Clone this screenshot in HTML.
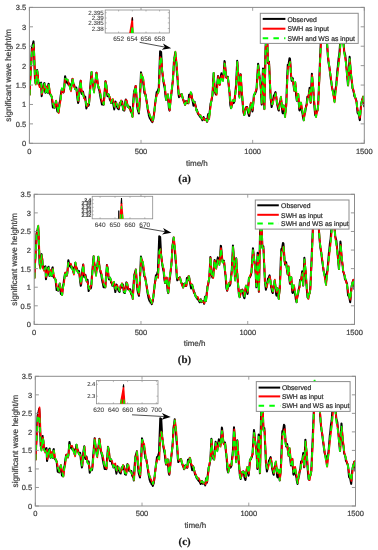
<!DOCTYPE html>
<html><head><meta charset="utf-8"><title>Significant wave height forecasts</title>
<style>
html,body{margin:0;padding:0;background:#fff;}
body{width:378px;height:550px;overflow:hidden;}
svg{display:block;color:#444;}
text{text-rendering:geometricPrecision;stroke:currentColor;stroke-width:0.22px;}
text[font-size='6.5'],text[font-size='6.2'],text[font-size='5.8'],text[font-size='5.4']{stroke-width:0.08px;}
</style></head>
<body>
<svg width="378" height="550" viewBox="0 0 378 550" font-family="'Liberation Sans', Arial, sans-serif" font-size="7.5" fill="#3a3a3a">
<rect width="378" height="550" fill="#fff"/>
<clipPath id='clipa'><rect x='29.4' y='3.4000000000000004' width='334.90000000000003' height='139.9'/></clipPath>
<g clip-path='url(#clipa)' fill='none' stroke-linejoin='round'>
<polyline points='29.40,94.12 29.60,94.41 30.00,81.86 30.52,74.08 30.70,70.96 31.30,60.58 31.63,53.38 31.80,48.58 32.40,45.94 32.75,44.63 33.50,41.37 33.87,46.63 34.00,50.67 34.50,66.46 34.98,78.95 35.10,80.56 35.60,83.36 36.10,78.20 37.10,69.90 37.21,70.92 37.80,75.05 38.33,83.79 38.40,83.75 39.45,83.09 39.50,84.62 40.56,83.61 41.10,82.60 41.60,94.44 41.68,96.15 42.70,89.68 42.80,89.74 43.91,83.86 44.40,83.04 45.03,91.21 45.40,92.72 46.14,90.84 46.50,87.55 47.26,91.07 47.60,92.79 48.38,84.15 48.70,83.74 49.49,93.17 49.80,93.82 50.61,94.84 51.40,96.05 51.73,96.45 52.84,107.40 53.96,106.20 54.40,108.14 55.08,105.08 56.00,100.94 56.19,102.68 57.31,111.42 58.42,110.72 58.50,112.21 59.54,102.65 60.10,101.03 60.66,95.69 61.70,89.75 61.77,90.94 62.89,91.86 63.40,92.43 64.01,90.15 65.00,77.13 65.12,76.20 66.24,81.82 67.36,83.07 67.50,81.01 68.47,84.67 69.10,83.83 69.59,83.65 70.70,89.57 70.70,88.70 71.82,84.60 72.40,79.00 72.94,82.93 74.00,85.90 74.05,84.77 75.17,89.08 76.29,87.59 76.50,89.14 77.40,98.06 78.10,102.93 78.52,101.45 79.64,86.98 80.60,80.78 80.75,83.11 81.40,92.51 81.87,93.99 82.98,91.55 84.10,97.66 84.60,98.64 85.22,96.64 86.33,108.46 87.10,105.77 87.45,104.25 88.57,105.81 89.00,104.29 89.68,93.81 90.80,80.24 91.50,72.20 91.91,78.01 92.30,80.50 93.03,84.24 93.90,90.90 94.15,86.98 95.26,82.80 96.38,73.23 96.40,72.74 97.50,82.02 98.00,85.82 98.61,88.15 99.60,91.41 99.73,93.16 100.85,99.33 101.30,101.08 101.96,104.53 103.08,104.20 103.70,104.72 104.19,97.21 105.31,83.21 105.40,81.26 106.43,85.59 107.00,93.61 107.54,96.28 108.66,94.38 109.50,97.58 109.78,99.40 110.89,101.45 111.10,102.90 112.01,102.31 112.70,99.84 113.12,103.11 114.24,109.45 114.40,108.45 115.36,101.59 116.00,102.68 116.47,104.81 117.59,108.09 118.50,109.20 118.71,109.29 119.82,102.84 120.90,102.38 120.94,104.71 122.06,101.47 122.60,105.13 123.17,109.91 124.20,110.56 124.29,110.59 125.40,101.02 125.80,99.40 126.52,101.12 127.64,106.76 128.30,106.23 128.75,106.68 129.87,106.69 130.70,111.25 130.99,112.02 132.10,113.59 132.40,116.47 133.22,101.92 134.00,92.06 134.34,90.76 135.45,87.06 135.60,85.98 136.57,99.13 137.30,107.25 137.68,109.38 138.80,113.20 138.90,113.45 139.92,97.68 141.00,72.36 141.03,72.39 142.15,77.90 143.00,78.93 143.27,83.00 144.38,92.65 144.60,93.32 145.50,94.20 146.62,101.29 147.10,104.46 147.73,109.43 148.70,114.15 148.85,115.39 149.96,118.73 150.60,118.70 151.08,120.58 152.20,121.08 152.30,122.24 153.31,119.21 153.90,115.03 154.43,110.31 155.50,100.68 155.55,100.98 156.66,92.05 157.20,91.78 157.78,90.83 158.80,87.69 158.89,83.93 160.01,54.04 160.10,51.29 161.13,52.14 161.30,55.34 162.10,70.64 162.24,71.68 163.36,81.65 163.40,81.28 164.48,87.27 164.50,85.57 165.59,96.80 166.20,99.99 166.71,97.67 167.80,94.54 167.83,95.73 168.94,108.35 169.50,110.62 170.06,104.96 171.10,94.27 171.17,96.01 172.29,85.68 172.70,81.68 173.41,72.55 173.90,61.55 174.52,57.78 175.20,52.48 175.64,58.79 176.50,64.85 176.76,71.02 177.60,79.80 177.87,84.67 178.50,93.86 178.99,97.22 180.10,95.82 180.11,94.73 181.22,94.54 181.70,94.16 182.34,96.61 183.40,100.25 183.45,100.46 184.57,103.11 185.00,104.76 185.69,101.23 186.60,101.36 186.80,102.92 187.92,102.32 188.30,103.28 189.04,94.82 190.15,96.95 190.70,93.16 191.27,93.15 192.38,100.24 192.40,99.86 193.50,105.85 194.62,101.79 194.80,102.80 195.73,106.54 196.50,110.49 196.85,109.86 197.97,113.64 198.90,114.97 199.08,115.28 200.20,116.89 201.32,117.82 201.40,118.06 202.43,120.23 203.55,117.01 204.60,119.88 204.66,120.05 205.78,119.21 206.90,120.23 207.10,121.80 208.01,114.40 208.70,113.91 209.00,118.81 209.13,116.49 210.25,106.94 210.60,103.42 211.36,101.32 212.30,95.78 212.48,95.05 213.60,73.58 213.60,72.95 214.70,90.76 214.71,91.15 215.83,94.36 216.40,93.83 216.94,86.73 218.00,76.02 218.06,76.81 219.18,80.73 219.60,84.43 220.29,78.57 221.30,74.27 221.41,73.29 222.53,78.17 222.90,79.97 223.64,73.91 224.50,61.05 224.76,61.86 225.87,74.11 226.20,77.12 226.99,76.81 227.80,76.70 228.11,79.71 229.22,90.54 229.50,92.53 230.34,105.36 231.10,108.14 231.46,106.06 232.57,103.44 232.70,101.49 233.69,102.94 234.40,101.54 234.81,97.55 235.92,86.62 236.00,86.50 237.04,64.37 237.20,60.87 238.15,72.92 238.50,80.39 239.27,93.06 239.30,96.13 240.39,78.66 240.60,74.31 241.50,89.41 241.70,91.37 242.62,103.19 243.40,111.69 243.74,113.16 244.20,114.99 244.85,111.88 245.80,107.77 245.97,107.29 247.09,106.98 247.50,108.69 248.20,113.29 249.10,116.04 249.32,115.63 250.43,106.26 250.70,103.93 251.55,103.94 252.40,111.51 252.67,110.57 253.78,96.17 254.00,94.74 254.90,94.17 256.02,91.48 256.50,89.45 257.13,79.37 258.10,63.71 258.25,64.53 259.36,75.49 259.40,75.70 260.48,84.33 261.00,90.83 261.60,103.84 261.70,104.51 262.71,75.27 263.00,68.39 263.83,93.38 264.30,109.08 264.95,77.16 265.50,48.13 266.06,38.08 266.30,31.40 267.18,35.38 267.20,37.81 267.90,62.95 268.30,63.39 269.00,61.73 269.41,70.28 269.80,79.83 270.53,95.89 270.60,98.06 271.64,107.11 272.30,104.35 272.76,101.72 273.88,95.37 273.90,96.94 274.99,93.27 275.50,92.12 276.11,96.11 277.20,104.77 277.23,104.53 278.34,109.72 278.80,110.56 279.46,103.57 280.57,99.96 280.80,97.69 281.69,105.30 282.40,112.17 282.81,113.30 283.70,105.60 283.92,106.48 285.00,116.47 285.04,114.24 286.16,106.20 286.20,104.58 287.27,74.88 287.80,64.66 288.39,65.31 289.51,58.16 290.00,58.89 290.62,67.49 291.10,75.96 291.74,80.86 292.70,78.20 292.85,78.55 293.97,88.48 294.40,90.89 295.09,86.75 295.20,83.44 296.20,95.90 296.80,100.75 297.32,98.66 298.10,93.93 298.44,98.41 299.30,109.82 299.55,110.46 300.67,104.66 300.90,103.72 301.79,110.21 302.60,113.96 302.90,116.87 303.70,120.26 304.02,116.60 305.00,112.27 305.13,112.39 306.25,105.31 306.60,104.49 307.37,96.76 308.30,96.48 308.48,97.00 309.60,87.88 309.90,88.21 310.60,102.79 310.72,99.44 311.83,75.13 311.90,73.80 312.95,87.01 313.10,87.88 314.06,102.12 314.70,109.81 315.18,115.15 315.90,116.00 316.30,111.62 317.41,110.78 318.00,107.19 318.53,95.75 319.60,70.43 319.65,68.97 320.76,42.10 320.80,40.58 321.80,21.78 321.88,24.28 322.90,31.20 323.00,32.87 324.11,33.74 324.50,36.84 325.23,34.67 326.20,29.50 326.34,31.21 327.46,50.53 327.80,55.05 328.58,62.94 329.50,67.95 329.69,69.99 330.81,78.97 331.10,80.97 331.93,87.24 332.70,90.45 333.04,91.03 334.16,97.58 334.40,100.84 335.28,90.39 336.00,86.82 336.39,82.52 337.51,68.59 337.60,69.17 338.62,58.12 339.30,54.22 339.74,48.70 340.86,33.32 340.90,33.90 341.97,38.01 342.60,34.21 343.09,38.34 344.20,51.30 344.21,51.54 345.32,55.61 345.80,60.76 346.44,67.41 347.56,80.54 348.00,85.35 348.67,74.67 349.60,56.80 349.79,58.23 350.70,71.73 350.90,74.92 352.02,82.93 352.40,87.82 353.14,89.71 354.00,93.42 354.25,95.88 355.37,97.81 355.60,98.68 356.49,101.00 357.30,110.07 357.60,112.98 358.72,114.35 359.70,119.75 359.83,120.13 360.95,106.29 361.40,102.95 362.07,100.17 363.00,97.07 363.18,98.25 364.20,105.30 364.30,107.10' stroke='#000' stroke-width='2.0'/>
<polyline points='29.62,94.98 29.82,94.84 30.22,82.44 30.74,75.07 30.92,71.93 31.52,60.77 31.86,52.82 32.02,49.19 32.62,48.38 32.97,47.84 33.72,44.36 34.09,50.56 34.22,53.33 34.72,66.07 35.20,76.74 35.32,79.68 35.82,84.70 36.32,80.66 37.32,70.83 37.44,71.87 38.02,75.85 38.55,84.39 38.62,84.24 39.67,87.19 39.72,86.83 40.79,86.25 41.32,84.15 41.82,93.51 41.90,94.21 42.92,90.04 43.02,90.29 44.14,85.32 44.62,83.99 45.25,89.53 45.62,91.88 46.37,87.98 46.72,86.30 47.48,89.78 47.82,92.14 48.60,86.53 48.92,85.13 49.72,90.63 50.02,92.56 50.83,95.17 51.62,96.36 51.95,97.10 53.07,104.03 54.18,106.21 54.62,107.88 55.30,105.30 56.22,100.52 56.42,102.01 57.53,107.49 58.65,112.99 58.72,113.01 59.76,104.14 60.32,101.85 60.88,97.75 61.92,88.88 62.00,88.99 63.11,91.56 63.62,92.30 64.23,87.92 65.22,78.83 65.35,79.01 66.46,79.87 67.58,79.77 67.72,79.64 68.69,82.89 69.32,85.48 69.81,86.57 70.92,90.93 70.93,91.28 72.04,83.93 72.62,78.51 73.16,81.25 74.22,87.14 74.28,86.98 75.39,88.91 76.51,89.98 76.72,90.40 77.63,96.34 78.32,101.19 78.74,98.31 79.86,87.86 80.82,80.51 80.97,82.01 81.62,91.05 82.09,90.93 83.21,94.10 84.32,98.18 84.82,98.82 85.44,100.17 86.56,105.56 87.32,106.46 87.67,106.06 88.79,102.61 89.22,102.55 89.91,94.59 91.02,79.64 91.72,71.81 92.14,76.22 92.52,79.82 93.25,84.84 94.12,92.40 94.37,89.98 95.49,82.40 96.60,72.52 96.62,72.77 97.72,82.76 98.22,86.28 98.84,86.71 99.82,90.29 99.95,90.73 101.07,96.91 101.52,99.72 102.18,101.85 103.30,103.47 103.92,104.42 104.42,97.23 105.53,82.32 105.62,81.09 106.65,87.80 107.22,92.96 107.77,94.85 108.88,95.52 109.72,96.80 110.00,97.88 111.12,101.13 111.32,102.58 112.23,100.00 112.92,98.88 113.35,101.25 114.46,106.50 114.62,106.76 115.58,103.61 116.22,102.52 116.70,104.69 117.81,105.48 118.72,108.06 118.93,107.51 120.05,103.54 121.12,100.31 121.16,100.76 122.28,103.50 122.82,105.90 123.40,108.90 124.42,109.81 124.51,109.64 125.63,102.21 126.02,99.94 126.74,100.41 127.86,106.14 128.52,106.68 128.98,107.98 130.09,109.56 130.92,110.48 131.21,111.03 132.33,115.61 132.62,117.05 133.44,103.68 134.22,92.20 134.56,90.99 135.67,86.30 135.82,85.77 136.79,98.14 137.52,106.25 137.91,107.75 139.02,111.81 139.12,112.43 140.14,94.47 141.22,73.69 141.26,74.28 142.37,76.40 143.22,78.13 143.49,80.71 144.61,89.66 144.82,91.85 145.72,96.47 146.84,102.70 147.32,104.95 147.95,109.12 148.92,112.45 149.07,112.62 150.19,116.26 150.82,117.41 151.30,118.78 152.42,120.97 152.52,121.68 153.54,116.84 154.12,113.92 154.65,108.96 155.72,99.74 155.77,99.30 156.89,95.08 157.42,93.35 158.00,93.65 159.02,90.69 159.12,88.08 160.23,59.07 160.32,57.03 161.35,59.04 161.52,60.32 162.32,71.52 162.47,71.77 163.58,81.08 163.62,81.24 164.70,85.12 164.72,84.68 165.82,95.27 166.42,99.93 166.93,97.82 168.02,94.36 168.05,95.31 169.16,106.60 169.72,110.33 170.28,105.14 171.32,92.60 171.40,92.58 172.51,83.64 172.92,80.96 173.63,69.10 174.12,60.60 174.75,56.52 175.42,51.71 175.86,55.56 176.72,63.75 176.98,67.56 177.82,79.65 178.10,83.68 178.72,92.72 179.21,94.79 180.32,96.17 180.33,95.51 181.44,94.70 181.92,94.26 182.56,97.51 183.62,100.53 183.68,101.22 184.79,103.94 185.22,104.97 185.91,103.47 186.82,100.80 187.03,101.96 188.14,102.60 188.52,103.25 189.26,99.60 190.38,95.58 190.92,92.57 191.49,94.44 192.61,100.29 192.62,99.79 193.72,101.51 194.84,103.49 195.02,103.49 195.96,108.05 196.72,110.65 197.07,110.76 198.19,113.31 199.12,114.51 199.31,115.05 200.42,114.91 201.54,117.75 201.62,117.62 202.65,119.37 203.77,118.04 204.82,119.53 204.89,120.21 206.00,120.38 207.12,120.69 207.32,121.53 208.24,116.88 208.92,114.03 209.22,118.76 209.35,117.32 210.47,107.52 210.82,103.62 211.59,98.76 212.52,94.00 212.70,91.55 213.82,73.23 213.82,73.17 214.92,91.19 214.93,91.86 216.05,92.96 216.62,94.85 217.17,89.00 218.22,76.41 218.28,76.90 219.40,82.11 219.82,85.23 220.52,80.22 221.52,75.82 221.63,75.70 222.75,79.13 223.12,80.68 223.87,71.85 224.72,63.16 224.98,64.86 226.10,75.77 226.42,78.21 227.21,77.69 228.02,77.42 228.33,80.40 229.45,91.75 229.72,93.14 230.56,102.06 231.32,108.11 231.68,106.54 232.80,100.44 232.92,99.91 233.91,99.43 234.62,100.93 235.03,96.71 236.14,88.49 236.22,87.58 237.26,65.16 237.42,61.92 238.38,75.78 238.72,81.94 239.49,95.85 239.52,97.45 240.61,78.16 240.82,74.50 241.73,88.34 241.92,90.86 242.84,102.74 243.62,111.56 243.96,113.44 244.42,114.74 245.08,112.03 246.02,107.71 246.19,107.66 247.31,107.67 247.72,108.76 248.42,110.46 249.32,113.79 249.54,111.89 250.66,103.80 250.92,102.58 251.77,104.87 252.62,109.89 252.89,107.94 254.01,97.05 254.22,95.20 255.12,92.45 256.24,89.47 256.72,88.57 257.36,79.22 258.32,65.52 258.47,67.02 259.59,77.25 259.62,76.91 260.70,86.54 261.22,91.88 261.82,102.42 261.92,103.62 262.94,77.71 263.22,70.20 264.05,94.86 264.52,109.30 265.17,77.99 265.72,49.87 266.29,37.25 266.52,32.21 267.40,39.88 267.42,41.01 268.12,62.67 268.52,61.71 269.22,63.73 269.63,72.81 270.02,81.19 270.75,98.00 270.82,99.02 271.87,104.25 272.52,104.64 272.98,102.73 274.10,97.98 274.12,98.18 275.22,95.38 275.72,93.24 276.33,96.41 277.42,104.33 277.45,104.01 278.57,107.95 279.02,109.38 279.68,105.47 280.80,97.58 281.02,96.49 281.91,104.03 282.62,109.70 283.03,108.93 283.92,105.62 284.15,106.88 285.22,117.13 285.26,116.40 286.38,103.88 286.42,103.28 287.50,78.02 288.02,66.94 288.61,66.55 289.73,62.21 290.22,61.53 290.85,70.40 291.32,77.60 291.96,79.57 292.92,80.17 293.08,81.90 294.19,89.13 294.62,91.24 295.31,83.96 295.42,82.30 296.43,92.91 297.02,100.17 297.54,97.78 298.32,93.84 298.66,98.05 299.52,108.28 299.78,107.89 300.89,102.45 301.12,102.48 302.01,108.26 302.82,112.68 303.12,114.88 303.92,120.36 304.24,117.82 305.22,110.03 305.36,108.51 306.47,106.06 306.82,104.71 307.59,99.35 308.52,95.33 308.71,94.75 309.82,90.10 310.12,89.42 310.82,102.63 310.94,99.52 312.06,77.13 312.12,75.19 313.17,86.18 313.32,87.57 314.29,101.61 314.92,109.00 315.40,113.86 316.12,117.11 316.52,114.74 317.64,109.96 318.22,105.82 318.75,93.85 319.82,71.07 319.87,69.44 320.99,42.02 321.02,41.51 322.02,22.74 322.10,23.56 323.12,32.21 323.22,32.61 324.34,37.99 324.72,39.92 325.45,35.48 326.42,32.60 326.57,35.06 327.68,50.52 328.02,55.66 328.80,62.40 329.72,68.77 329.92,70.61 331.03,78.41 331.32,80.90 332.15,87.53 332.92,92.41 333.27,94.79 334.38,101.12 334.62,102.45 335.50,93.55 336.22,87.44 336.61,83.63 337.73,72.21 337.82,71.42 338.85,62.68 339.52,56.28 339.96,51.58 341.08,37.59 341.12,37.09 342.20,37.52 342.82,37.21 343.31,42.09 344.42,53.06 344.43,53.52 345.55,59.42 346.02,63.17 346.66,69.52 347.78,80.48 348.22,85.40 348.89,74.20 349.82,59.67 350.01,62.60 350.92,71.69 351.13,73.93 352.24,83.83 352.62,88.31 353.36,89.74 354.22,92.86 354.48,94.62 355.59,99.05 355.82,99.22 356.71,103.77 357.52,108.52 357.83,110.30 358.94,114.66 359.92,117.90 360.06,117.29 361.17,106.44 361.62,102.94 362.29,99.49 363.22,96.46 363.41,97.06 364.30,103.69 364.30,104.18' stroke='#f00' stroke-width='1.7'/>
<polyline points='29.51,94.72 29.71,94.71 30.11,82.05 30.63,74.30 30.81,71.47 31.41,60.29 31.74,51.99 31.91,48.65 32.51,48.17 32.86,47.67 33.61,44.52 33.98,51.17 34.11,53.54 34.61,66.54 35.09,77.88 35.21,80.22 35.71,84.97 36.21,81.24 37.21,70.54 37.33,71.42 37.91,75.29 38.44,83.43 38.51,83.73 39.56,85.63 39.61,86.02 40.67,85.07 41.21,83.53 41.71,92.78 41.79,92.77 42.81,89.43 42.91,89.10 44.02,84.83 44.51,83.71 45.14,90.58 45.51,92.41 46.26,89.43 46.61,87.00 47.37,90.60 47.71,92.55 48.49,85.96 48.81,84.81 49.61,90.32 49.91,92.40 50.72,94.87 51.51,96.44 51.84,97.26 52.95,103.35 54.07,105.93 54.51,107.78 55.19,105.73 56.11,100.76 56.30,102.47 57.42,107.42 58.54,112.79 58.61,112.96 59.65,104.66 60.21,102.04 60.77,98.07 61.81,88.40 61.89,88.05 63.00,90.30 63.51,91.67 64.12,87.51 65.11,78.66 65.23,78.75 66.35,79.54 67.47,79.54 67.61,79.48 68.58,84.00 69.21,85.57 69.70,86.81 70.81,90.69 70.82,90.82 71.93,82.41 72.51,78.28 73.05,80.90 74.11,86.96 74.16,86.66 75.28,89.23 76.40,89.24 76.61,90.02 77.51,96.16 78.21,101.18 78.63,98.23 79.75,88.50 80.71,80.70 80.86,82.47 81.51,91.43 81.98,91.71 83.10,94.94 84.21,98.72 84.71,99.10 85.33,99.57 86.44,105.10 87.21,106.68 87.56,106.46 88.68,104.05 89.11,103.29 89.79,95.85 90.91,80.01 91.61,71.92 92.03,76.60 92.41,79.97 93.14,85.16 94.01,92.59 94.26,90.37 95.38,82.02 96.49,72.14 96.51,72.53 97.61,82.76 98.11,86.27 98.72,87.05 99.71,90.53 99.84,91.25 100.96,97.01 101.41,99.80 102.07,101.47 103.19,102.84 103.81,104.32 104.31,96.95 105.42,82.41 105.51,81.09 106.54,87.54 107.11,92.62 107.65,94.20 108.77,94.68 109.61,96.95 109.89,98.16 111.00,101.58 111.21,102.82 112.12,100.09 112.81,98.84 113.24,101.15 114.35,105.91 114.51,106.49 115.47,102.79 116.11,101.94 116.59,103.51 117.70,105.84 118.61,108.61 118.82,108.54 119.93,105.32 121.01,100.99 121.05,102.09 122.17,104.48 122.71,106.42 123.28,109.28 124.31,110.13 124.40,110.19 125.52,103.12 125.91,100.40 126.63,101.42 127.75,106.05 128.41,106.78 128.87,108.11 129.98,109.37 130.81,110.56 131.10,111.11 132.21,115.04 132.51,116.83 133.33,103.72 134.11,92.58 134.45,91.75 135.56,87.14 135.71,86.17 136.68,97.51 137.41,105.87 137.80,106.94 138.91,110.74 139.01,111.94 140.03,93.92 141.11,72.94 141.14,72.88 142.26,75.43 143.11,78.04 143.38,80.63 144.49,89.69 144.71,91.86 145.61,96.26 146.73,101.99 147.21,104.62 147.84,108.32 148.81,112.58 148.96,112.78 150.08,115.87 150.71,117.22 151.19,118.29 152.31,120.53 152.41,121.53 153.42,116.89 154.01,114.44 154.54,109.87 155.61,100.01 155.66,99.80 156.77,94.90 157.31,93.26 157.89,93.22 158.91,90.08 159.01,86.87 160.12,58.94 160.21,56.85 161.24,59.41 161.41,60.42 162.21,71.50 162.36,71.85 163.47,80.87 163.51,81.10 164.59,84.43 164.61,84.31 165.70,95.88 166.31,100.07 166.82,98.07 167.91,94.51 167.94,95.62 169.05,106.38 169.61,110.47 170.17,105.32 171.21,92.62 171.29,92.65 172.40,83.98 172.81,81.09 173.52,68.97 174.01,60.42 174.63,57.20 175.31,51.90 175.75,56.17 176.61,64.19 176.87,68.61 177.71,79.58 177.98,83.64 178.61,92.79 179.10,94.95 180.21,96.35 180.22,95.85 181.33,94.55 181.81,94.18 182.45,97.18 183.51,100.10 183.57,100.31 184.68,103.38 185.11,104.72 185.80,103.03 186.71,100.27 186.91,100.89 188.03,101.41 188.41,102.68 189.15,98.05 190.26,94.39 190.81,91.96 191.38,94.57 192.50,99.69 192.51,99.51 193.61,101.76 194.73,102.90 194.91,103.22 195.85,107.95 196.61,110.65 196.96,110.66 198.08,114.02 199.01,114.97 199.19,115.87 200.31,115.35 201.43,117.20 201.51,117.41 202.54,119.27 203.66,118.22 204.71,119.46 204.78,119.95 205.89,119.78 207.01,120.04 207.21,121.28 208.12,116.73 208.81,114.31 209.11,119.06 209.24,117.80 210.36,108.50 210.71,104.12 211.47,100.59 212.41,94.41 212.59,92.36 213.71,72.77 213.71,72.88 214.81,90.46 214.82,90.41 215.94,92.12 216.51,94.70 217.06,88.67 218.11,76.65 218.17,77.48 219.29,82.94 219.71,85.63 220.40,81.24 221.41,76.14 221.52,76.44 222.64,80.24 223.01,81.20 223.75,73.12 224.61,63.51 224.87,65.73 225.99,76.58 226.31,78.58 227.10,77.73 227.91,77.28 228.22,80.24 229.34,90.95 229.61,92.74 230.45,101.71 231.21,108.37 231.57,106.98 232.68,101.55 232.81,100.48 233.80,100.41 234.51,101.10 234.92,97.01 236.03,88.33 236.11,87.48 237.15,65.26 237.31,61.87 238.27,76.47 238.61,82.27 239.38,96.64 239.41,97.86 240.50,78.08 240.71,74.40 241.61,87.84 241.81,90.61 242.73,102.40 243.51,111.89 243.85,114.03 244.31,115.09 244.96,113.06 245.91,107.98 246.08,108.11 247.20,108.09 247.61,109.01 248.31,110.71 249.21,114.35 249.43,112.90 250.55,104.16 250.81,102.78 251.66,105.02 252.51,109.86 252.78,107.80 253.89,96.42 254.11,94.89 255.01,92.25 256.13,89.43 256.61,88.54 257.24,79.38 258.21,65.31 258.36,66.76 259.48,77.49 259.51,76.98 260.59,86.62 261.11,91.93 261.71,102.68 261.81,103.78 262.83,76.62 263.11,69.57 263.94,94.00 264.41,108.94 265.06,77.18 265.61,49.27 266.17,37.53 266.41,32.18 267.29,40.84 267.31,41.35 268.01,63.28 268.41,63.09 269.11,63.76 269.52,73.08 269.91,81.31 270.64,97.39 270.71,98.72 271.76,103.11 272.41,104.38 272.87,102.15 273.99,98.52 274.01,98.46 275.10,96.38 275.61,93.73 276.22,96.57 277.31,104.07 277.34,103.43 278.45,106.89 278.91,108.90 279.57,105.73 280.69,98.08 280.91,96.74 281.80,104.75 282.51,109.88 282.92,109.21 283.81,105.52 284.04,106.62 285.11,117.23 285.15,116.48 286.27,103.77 286.31,103.24 287.38,78.86 287.91,67.26 288.50,67.07 289.62,63.35 290.11,62.01 290.73,70.98 291.21,77.86 291.85,79.55 292.81,79.55 292.97,80.74 294.08,87.45 294.51,90.40 295.20,82.93 295.31,81.75 296.32,92.70 296.91,100.33 297.43,98.05 298.21,93.86 298.55,98.11 299.41,108.32 299.66,107.89 300.78,102.64 301.01,102.59 301.90,108.48 302.71,112.83 303.01,115.10 303.81,120.41 304.13,117.76 305.11,110.42 305.25,109.22 306.36,105.80 306.71,104.61 307.48,99.83 308.41,95.45 308.59,94.99 309.71,91.70 310.01,90.21 310.71,103.34 310.83,100.89 311.94,76.90 312.01,75.02 313.06,84.94 313.21,86.94 314.18,100.07 314.81,108.39 315.29,112.60 316.01,117.10 316.41,114.59 317.53,110.34 318.11,106.39 318.64,94.86 319.71,71.00 319.76,69.42 320.87,41.68 320.91,41.20 321.91,22.22 321.99,22.89 323.01,31.50 323.11,31.52 324.22,37.06 324.61,39.32 325.34,34.87 326.31,32.19 326.46,34.57 327.57,49.54 327.91,55.09 328.69,61.56 329.61,68.34 329.81,69.90 330.92,77.80 331.21,80.56 332.04,86.61 332.81,92.21 333.15,94.41 334.27,100.61 334.51,102.22 335.39,93.69 336.11,87.35 336.50,83.47 337.62,72.42 337.71,71.46 338.74,62.30 339.41,56.21 339.85,51.62 340.97,37.25 341.01,36.77 342.08,37.03 342.71,36.79 343.20,41.57 344.31,52.93 344.32,53.50 345.43,60.34 345.91,63.56 346.55,70.18 347.67,80.44 348.11,85.37 348.78,72.78 349.71,58.73 349.90,60.92 350.81,71.35 351.02,73.37 352.13,83.97 352.51,88.37 353.25,89.98 354.11,92.41 354.36,93.74 355.48,98.02 355.71,98.71 356.60,102.55 357.41,108.39 357.71,109.99 358.83,113.94 359.81,117.86 359.95,117.10 361.06,105.34 361.51,102.41 362.18,99.38 363.11,96.46 363.30,97.05 364.30,104.19 364.30,105.15' stroke='#0f0' stroke-width='1.7' stroke-dasharray='5.5 4'/>
</g>
<rect x='29.4' y='7.4' width='334.90000000000003' height='135.9' fill='none' stroke='#8c8c8c' stroke-width='1'/>
<line x1='29.4' y1='143.30' x2='33.0' y2='143.30' stroke='#8c8c8c' stroke-width='0.9'/>
<line x1='364.3' y1='143.30' x2='360.7' y2='143.30' stroke='#8c8c8c' stroke-width='0.9'/>
<text x='26.20' y='146.20' text-anchor='end'>0</text>
<line x1='29.4' y1='123.89' x2='33.0' y2='123.89' stroke='#8c8c8c' stroke-width='0.9'/>
<line x1='364.3' y1='123.89' x2='360.7' y2='123.89' stroke='#8c8c8c' stroke-width='0.9'/>
<text x='26.20' y='126.79' text-anchor='end'>0.5</text>
<line x1='29.4' y1='104.47' x2='33.0' y2='104.47' stroke='#8c8c8c' stroke-width='0.9'/>
<line x1='364.3' y1='104.47' x2='360.7' y2='104.47' stroke='#8c8c8c' stroke-width='0.9'/>
<text x='26.20' y='107.37' text-anchor='end'>1</text>
<line x1='29.4' y1='85.06' x2='33.0' y2='85.06' stroke='#8c8c8c' stroke-width='0.9'/>
<line x1='364.3' y1='85.06' x2='360.7' y2='85.06' stroke='#8c8c8c' stroke-width='0.9'/>
<text x='26.20' y='87.96' text-anchor='end'>1.5</text>
<line x1='29.4' y1='65.64' x2='33.0' y2='65.64' stroke='#8c8c8c' stroke-width='0.9'/>
<line x1='364.3' y1='65.64' x2='360.7' y2='65.64' stroke='#8c8c8c' stroke-width='0.9'/>
<text x='26.20' y='68.54' text-anchor='end'>2</text>
<line x1='29.4' y1='46.23' x2='33.0' y2='46.23' stroke='#8c8c8c' stroke-width='0.9'/>
<line x1='364.3' y1='46.23' x2='360.7' y2='46.23' stroke='#8c8c8c' stroke-width='0.9'/>
<text x='26.20' y='49.13' text-anchor='end'>2.5</text>
<line x1='29.4' y1='26.81' x2='33.0' y2='26.81' stroke='#8c8c8c' stroke-width='0.9'/>
<line x1='364.3' y1='26.81' x2='360.7' y2='26.81' stroke='#8c8c8c' stroke-width='0.9'/>
<text x='26.20' y='29.71' text-anchor='end'>3</text>
<line x1='29.4' y1='7.40' x2='33.0' y2='7.40' stroke='#8c8c8c' stroke-width='0.9'/>
<line x1='364.3' y1='7.40' x2='360.7' y2='7.40' stroke='#8c8c8c' stroke-width='0.9'/>
<text x='26.20' y='10.30' text-anchor='end'>3.5</text>
<line x1='29.40' y1='143.3' x2='29.40' y2='139.9' stroke='#8c8c8c' stroke-width='0.8'/>
<line x1='29.40' y1='7.4' x2='29.40' y2='10.8' stroke='#8c8c8c' stroke-width='0.8'/>
<text x='29.40' y='153.70' text-anchor='middle'>0</text>
<line x1='141.03' y1='143.3' x2='141.03' y2='139.9' stroke='#8c8c8c' stroke-width='0.8'/>
<line x1='141.03' y1='7.4' x2='141.03' y2='10.8' stroke='#8c8c8c' stroke-width='0.8'/>
<text x='141.03' y='153.70' text-anchor='middle'>500</text>
<line x1='252.67' y1='143.3' x2='252.67' y2='139.9' stroke='#8c8c8c' stroke-width='0.8'/>
<line x1='252.67' y1='7.4' x2='252.67' y2='10.8' stroke='#8c8c8c' stroke-width='0.8'/>
<text x='252.67' y='153.70' text-anchor='middle'>1000</text>
<line x1='364.30' y1='143.3' x2='364.30' y2='139.9' stroke='#8c8c8c' stroke-width='0.8'/>
<line x1='364.30' y1='7.4' x2='364.30' y2='10.8' stroke='#8c8c8c' stroke-width='0.8'/>
<text x='364.30' y='153.70' text-anchor='middle'>1500</text>
<text x='196.90' y='165.80' text-anchor='middle' font-size='8'>time/h</text>
<text transform='translate(11.2,75.35) rotate(-90)' text-anchor='middle' font-size='8.3'>significant wave height/m</text>
<text x='184.6' y='182.0' text-anchor='middle' font-family='Liberation Serif, serif' font-weight='bold' font-size='10.8' fill='#111'>(a)</text>
<rect x='260.3' y='13.3' width='97.89999999999998' height='30.099999999999998' fill='#fff' stroke='#8c8c8c' stroke-width='1'/>
<line x1='262.7' y1='18.9' x2='285.4' y2='18.9' stroke='#000' stroke-width='2'/>
<text x='287.4' y='21.60' fill='#111' font-size='6.8'>Observed</text>
<line x1='262.7' y1='28.7' x2='285.4' y2='28.7' stroke='#f00' stroke-width='2'/>
<text x='287.4' y='31.40' fill='#111' font-size='6.8'>SWH as input</text>
<line x1='262.7' y1='38.3' x2='285.4' y2='38.3' stroke='#0f0' stroke-width='2' stroke-dasharray='5.5 5.2'/>
<text x='287.4' y='41.00' fill='#111' font-size='6.8'>SWH and WS as input</text>
<rect x='105.2' y='10.0' width='64.10000000000001' height='23.0' fill='#fff' stroke='#8c8c8c' stroke-width='0.8'/>
<line x1='118.6' y1='33.0' x2='118.6' y2='31.5' stroke='#8c8c8c' stroke-width='0.6'/>
<line x1='118.6' y1='10.0' x2='118.6' y2='11.5' stroke='#8c8c8c' stroke-width='0.6'/>
<text x='118.6' y='40.9' text-anchor='middle' font-size='6.5'>652</text>
<line x1='132.3' y1='33.0' x2='132.3' y2='31.5' stroke='#8c8c8c' stroke-width='0.6'/>
<line x1='132.3' y1='10.0' x2='132.3' y2='11.5' stroke='#8c8c8c' stroke-width='0.6'/>
<text x='132.3' y='40.9' text-anchor='middle' font-size='6.5'>654</text>
<line x1='146.0' y1='33.0' x2='146.0' y2='31.5' stroke='#8c8c8c' stroke-width='0.6'/>
<line x1='146.0' y1='10.0' x2='146.0' y2='11.5' stroke='#8c8c8c' stroke-width='0.6'/>
<text x='146.0' y='40.9' text-anchor='middle' font-size='6.5'>656</text>
<line x1='159.6' y1='33.0' x2='159.6' y2='31.5' stroke='#8c8c8c' stroke-width='0.6'/>
<line x1='159.6' y1='10.0' x2='159.6' y2='11.5' stroke='#8c8c8c' stroke-width='0.6'/>
<text x='159.6' y='40.9' text-anchor='middle' font-size='6.5'>658</text>
<line x1='105.2' y1='12.7' x2='106.7' y2='12.7' stroke='#8c8c8c' stroke-width='0.6'/>
<line x1='169.3' y1='12.7' x2='167.8' y2='12.7' stroke='#8c8c8c' stroke-width='0.6'/>
<text x='103.8' y='14.899999999999999' text-anchor='end' font-size='6.2'>2.395</text>
<line x1='105.2' y1='18.0' x2='106.7' y2='18.0' stroke='#8c8c8c' stroke-width='0.6'/>
<line x1='169.3' y1='18.0' x2='167.8' y2='18.0' stroke='#8c8c8c' stroke-width='0.6'/>
<text x='103.8' y='20.2' text-anchor='end' font-size='6.2'>2.39</text>
<line x1='105.2' y1='22.9' x2='106.7' y2='22.9' stroke='#8c8c8c' stroke-width='0.6'/>
<line x1='169.3' y1='22.9' x2='167.8' y2='22.9' stroke='#8c8c8c' stroke-width='0.6'/>
<text x='103.8' y='25.099999999999998' text-anchor='end' font-size='6.2'>2.385</text>
<line x1='105.2' y1='28.5' x2='106.7' y2='28.5' stroke='#8c8c8c' stroke-width='0.6'/>
<line x1='169.3' y1='28.5' x2='167.8' y2='28.5' stroke='#8c8c8c' stroke-width='0.6'/>
<text x='103.8' y='30.7' text-anchor='end' font-size='6.2'>2.38</text>
<polygon points='129.2,33.0 131.8,17.6 133.0,17.6 133.7,33.0' fill='#f00'/>
<polygon points='131.5,20.6 131.9,17.2 132.9,17.2 133.2,20.6' fill='#000'/>
<polygon points='130.8,33.0 131.4,27.6 133.3,27.6 133.6,33.0' fill='#0f0'/>
<line x1='139.6' y1='42.3' x2='164.83' y2='47.09' stroke='#222' stroke-width='0.8'/><polygon points='171.20,48.30 161.74,49.86 164.83,47.09 162.97,43.38' fill='#000'/>
<clipPath id='clipb'><rect x='34.2' y='190.3' width='320.3' height='134.09999999999997'/></clipPath>
<g clip-path='url(#clipb)' fill='none' stroke-linejoin='round'>
<polyline points='34.20,277.32 34.39,277.60 34.77,265.58 35.27,258.14 35.44,255.15 36.02,245.21 36.34,238.32 36.50,233.72 37.07,231.20 37.40,229.94 38.12,226.82 38.47,231.86 38.60,235.72 39.08,250.84 39.54,262.79 39.65,264.34 40.13,267.01 40.61,262.08 41.56,254.13 41.67,255.11 42.23,259.06 42.74,267.43 42.81,267.39 43.81,266.76 43.86,268.23 44.88,267.26 45.39,266.29 45.87,277.63 45.94,279.26 46.92,273.07 47.01,273.13 48.08,267.50 48.55,266.71 49.15,274.54 49.50,275.98 50.22,274.18 50.55,271.03 51.28,274.40 51.61,276.04 52.35,267.78 52.66,267.38 53.42,276.41 53.71,277.04 54.49,278.01 55.24,279.17 55.55,279.55 56.62,290.03 57.69,288.88 58.11,290.74 58.76,287.81 59.64,283.84 59.82,285.51 60.89,293.89 61.96,293.21 62.03,294.64 63.03,285.49 63.56,283.93 64.09,278.83 65.09,273.14 65.16,274.28 66.23,275.16 66.72,275.70 67.30,273.52 68.25,261.05 68.37,260.16 69.43,265.55 70.50,266.74 70.64,264.77 71.57,268.27 72.17,267.47 72.64,267.30 73.70,272.96 73.70,272.13 74.77,268.20 75.33,262.85 75.84,266.60 76.86,269.45 76.91,268.37 77.97,272.49 79.04,271.07 79.25,272.55 80.11,281.09 80.78,285.75 81.18,284.33 82.25,270.49 83.17,264.55 83.31,266.78 83.93,275.78 84.38,277.19 85.45,274.85 86.52,280.70 86.99,281.65 87.58,279.73 88.65,291.05 89.38,288.47 89.72,287.02 90.79,288.51 91.20,287.05 91.85,277.02 92.92,264.03 93.59,256.34 93.99,261.89 94.36,264.28 95.06,267.86 95.89,274.24 96.12,270.48 97.19,266.48 98.26,257.32 98.28,256.85 99.33,265.73 99.81,269.37 100.40,271.61 101.34,274.72 101.46,276.40 102.53,282.31 102.97,283.98 103.60,287.29 104.67,286.97 105.26,287.46 105.73,280.28 106.80,266.88 106.89,265.01 107.87,269.15 108.42,276.83 108.94,279.39 110.00,277.56 110.81,280.63 111.07,282.37 112.14,284.34 112.34,285.73 113.21,285.16 113.87,282.80 114.28,285.93 115.34,292.00 115.49,291.04 116.41,284.47 117.02,285.51 117.48,287.55 118.55,290.70 119.42,291.76 119.61,291.85 120.68,285.67 121.71,285.23 121.75,287.46 122.82,284.36 123.34,287.86 123.88,292.44 124.87,293.06 124.95,293.08 126.02,283.92 126.40,282.37 127.09,284.02 128.15,289.42 128.79,288.91 129.22,289.34 130.29,289.36 131.08,293.72 131.36,294.46 132.43,295.96 132.71,298.72 133.49,284.79 134.24,275.35 134.56,274.10 135.63,270.56 135.77,269.53 136.70,282.12 137.40,289.89 137.76,291.93 138.83,295.58 138.93,295.83 139.90,280.72 140.93,256.48 140.97,256.52 142.03,261.79 142.85,262.77 143.10,266.67 144.17,275.91 144.38,276.56 145.24,277.40 146.31,284.18 146.77,287.22 147.37,291.98 148.30,296.50 148.44,297.68 149.51,300.88 150.12,300.85 150.58,302.65 151.64,303.13 151.74,304.24 152.71,301.34 153.27,297.34 153.78,292.81 154.80,283.60 154.85,283.89 155.91,275.34 156.43,275.08 156.98,274.17 157.96,271.16 158.05,267.57 159.12,238.95 159.20,236.31 160.18,237.13 160.35,240.19 161.11,254.84 161.25,255.84 162.32,265.39 162.36,265.03 163.39,270.76 163.41,269.13 164.46,279.89 165.04,282.94 165.52,280.72 166.57,277.72 166.59,278.86 167.66,290.94 168.19,293.11 168.73,287.70 169.72,277.46 169.79,279.13 170.86,269.24 171.25,265.41 171.93,256.66 172.40,246.14 173.00,242.53 173.64,237.46 174.06,243.50 174.89,249.30 175.13,255.20 175.94,263.61 176.20,268.28 176.80,277.07 177.27,280.29 178.33,278.95 178.34,277.91 179.40,277.72 179.86,277.36 180.47,279.70 181.49,283.19 181.54,283.39 182.61,285.92 183.02,287.51 183.67,284.13 184.55,284.25 184.74,285.74 185.81,285.17 186.17,286.09 186.88,277.99 187.94,280.03 188.47,276.40 189.01,276.39 190.08,283.18 190.09,282.81 191.15,288.54 192.21,284.66 192.39,285.63 193.28,289.21 194.02,292.99 194.35,292.39 195.42,296.00 196.31,297.28 196.49,297.57 197.55,299.12 198.62,300.01 198.70,300.24 199.69,302.31 200.76,299.23 201.76,301.98 201.82,302.14 202.89,301.34 203.96,302.31 204.15,303.82 205.03,296.73 205.68,296.26 205.97,300.95 206.09,298.73 207.16,289.60 207.50,286.22 208.23,284.21 209.13,278.91 209.30,278.21 210.37,257.65 210.37,257.05 211.42,274.10 211.43,274.48 212.50,277.55 213.05,277.04 213.57,270.24 214.58,259.99 214.64,260.75 215.70,264.50 216.11,268.04 216.77,262.43 217.73,258.32 217.84,257.37 218.91,262.05 219.26,263.77 219.97,257.97 220.79,245.66 221.04,246.43 222.11,258.17 222.42,261.05 223.18,260.75 223.95,260.65 224.24,263.53 225.31,273.89 225.58,275.80 226.38,288.08 227.11,290.74 227.45,288.75 228.52,286.24 228.64,284.38 229.58,285.76 230.26,284.42 230.65,280.60 231.72,270.14 231.79,270.03 232.79,248.84 232.94,245.48 233.85,257.03 234.18,264.18 234.92,276.31 234.95,279.25 235.99,262.52 236.19,258.36 237.06,272.81 237.24,274.69 238.12,286.00 238.87,294.14 239.19,295.55 239.64,297.30 240.26,294.32 241.17,290.38 241.33,289.93 242.40,289.63 242.79,291.26 243.46,295.67 244.32,298.30 244.53,297.91 245.60,288.94 245.85,286.71 246.67,286.72 247.48,293.97 247.73,293.07 248.80,279.29 249.01,277.91 249.87,277.37 250.94,274.79 251.40,272.85 252.00,263.20 252.93,248.21 253.07,248.99 254.14,259.49 254.17,259.69 255.21,267.95 255.70,274.17 256.27,286.63 256.37,287.27 257.34,259.27 257.62,252.69 258.41,276.61 258.86,291.64 259.48,261.08 260.01,233.29 260.55,223.67 260.77,217.28 261.61,221.08 261.63,223.41 262.30,247.47 262.68,247.90 263.35,246.31 263.75,254.50 264.12,263.64 264.82,279.01 264.88,281.09 265.88,289.75 266.51,287.11 266.95,284.60 268.02,278.52 268.04,280.02 269.09,276.50 269.57,275.40 270.15,279.22 271.20,287.52 271.22,287.28 272.29,292.25 272.73,293.06 273.36,286.36 274.43,282.91 274.64,280.74 275.49,288.02 276.17,294.60 276.56,295.68 277.41,288.31 277.63,289.16 278.66,298.71 278.70,296.58 279.76,288.88 279.80,287.34 280.83,258.90 281.34,249.12 281.90,249.74 282.97,242.89 283.44,243.59 284.03,251.83 284.49,259.93 285.10,264.63 286.02,262.08 286.17,262.42 287.24,271.92 287.65,274.23 288.30,270.26 288.41,267.09 289.37,279.02 289.94,283.67 290.44,281.66 291.19,277.14 291.51,281.42 292.33,292.35 292.58,292.96 293.64,287.41 293.86,286.51 294.71,292.72 295.49,296.31 295.78,299.10 296.54,302.35 296.85,298.84 297.79,294.69 297.91,294.81 298.98,288.03 299.32,287.25 300.05,279.84 300.94,279.58 301.12,280.08 302.18,271.35 302.47,271.66 303.14,285.62 303.25,282.41 304.32,259.14 304.38,257.87 305.39,270.52 305.53,271.35 306.45,284.98 307.06,292.34 307.52,297.45 308.21,298.27 308.59,294.07 309.66,293.27 310.22,289.83 310.73,278.88 311.75,254.64 311.79,253.25 312.86,227.52 312.90,226.06 313.85,208.07 313.93,210.46 314.90,217.08 315.00,218.69 316.06,219.52 316.44,222.48 317.13,220.40 318.06,215.46 318.20,217.10 319.27,235.58 319.59,239.91 320.33,247.47 321.22,252.27 321.40,254.22 322.47,262.81 322.75,264.73 323.54,270.73 324.28,273.80 324.61,274.36 325.67,280.63 325.90,283.75 326.74,273.75 327.43,270.33 327.81,266.21 328.88,252.87 328.96,253.43 329.94,242.85 330.59,239.12 331.01,233.84 332.08,219.11 332.12,219.67 333.15,223.60 333.75,219.96 334.21,223.92 335.28,236.33 335.28,236.56 336.35,240.45 336.81,245.38 337.42,251.75 338.48,264.32 338.91,268.92 339.55,258.70 340.44,241.59 340.62,242.96 341.49,255.88 341.69,258.94 342.76,266.60 343.12,271.29 343.82,273.10 344.65,276.65 344.89,279.00 345.96,280.85 346.18,281.68 347.03,283.90 347.81,292.59 348.09,295.38 349.16,296.69 350.10,301.85 350.23,302.22 351.30,288.97 351.73,285.78 352.36,283.11 353.26,280.14 353.43,281.27 354.40,288.02 354.50,289.75' stroke='#000' stroke-width='2.0'/>
<polyline points='34.41,278.13 34.60,278.01 34.99,266.33 35.48,259.38 35.66,256.41 36.23,245.90 36.55,238.40 36.71,234.78 37.28,232.38 37.62,230.94 38.33,225.62 38.68,232.41 38.81,235.39 39.29,248.75 39.75,260.10 39.87,263.19 40.34,268.45 40.82,264.64 41.78,255.38 41.89,256.36 42.45,260.11 42.95,268.16 43.02,268.02 44.02,270.80 44.07,270.46 45.09,269.91 45.60,267.93 46.08,276.75 46.16,277.42 47.13,273.48 47.23,273.72 48.29,269.03 48.76,267.78 49.36,273.00 49.72,275.22 50.43,271.54 50.77,269.96 51.50,273.24 51.82,275.47 52.56,270.18 52.87,268.85 53.63,274.04 53.92,275.86 54.70,278.32 55.45,279.44 55.77,280.13 56.83,286.67 57.90,288.72 58.32,290.30 58.97,287.87 59.85,283.36 60.04,284.76 61.11,289.93 62.17,295.12 62.24,295.13 63.24,286.77 63.78,284.62 64.31,280.75 65.31,272.39 65.38,272.50 66.44,274.91 66.93,275.62 67.51,271.48 68.46,262.91 68.58,263.08 69.65,263.90 70.71,263.81 70.85,263.68 71.78,266.74 72.38,269.18 72.85,270.21 73.91,274.32 73.92,274.65 74.98,267.73 75.54,262.61 76.05,265.19 77.07,270.75 77.12,270.60 78.19,272.42 79.26,273.42 79.46,273.82 80.32,279.42 80.99,284.00 81.39,281.28 82.46,271.43 83.38,264.50 83.53,265.91 84.15,274.43 84.59,274.32 85.66,277.31 86.73,281.15 87.21,281.76 87.80,283.03 88.86,288.11 89.60,288.95 89.93,288.58 91.00,285.33 91.42,285.27 92.07,277.77 93.14,263.69 93.81,256.30 94.20,260.46 94.57,263.85 95.27,268.59 96.10,275.71 96.34,273.43 97.41,266.28 98.47,256.97 98.49,257.21 99.54,266.62 100.02,269.94 100.61,270.34 101.55,273.71 101.68,274.14 102.74,279.96 103.18,282.61 103.81,284.61 104.88,286.14 105.47,287.04 105.95,280.26 107.01,266.20 107.10,265.04 108.08,271.37 108.63,276.23 109.15,278.02 110.22,278.65 111.02,279.86 111.29,280.87 112.35,283.94 112.55,285.30 113.42,282.87 114.08,281.81 114.49,284.05 115.56,289.00 115.71,289.24 116.62,286.28 117.24,285.24 117.69,287.29 118.76,288.04 119.63,290.47 119.83,289.95 120.89,286.20 121.92,283.17 121.96,283.59 123.03,286.17 123.55,288.43 124.10,291.25 125.08,292.12 125.17,291.95 126.23,284.95 126.61,282.81 127.30,283.26 128.37,288.66 129.00,289.17 129.44,290.39 130.50,291.88 131.30,292.75 131.57,293.26 132.64,297.58 132.92,298.94 133.71,286.34 134.45,275.52 134.77,274.38 135.84,269.96 135.98,269.46 136.91,281.12 137.61,288.76 137.98,290.17 139.04,294.00 139.14,294.58 140.11,277.66 141.15,258.07 141.18,258.63 142.25,260.63 143.06,262.26 143.32,264.69 144.38,273.13 144.59,275.18 145.45,279.54 146.52,285.42 146.98,287.53 147.59,291.47 148.51,294.61 148.65,294.77 149.72,298.20 150.33,299.28 150.79,300.57 151.86,302.63 151.96,303.30 152.92,298.74 153.49,295.99 153.99,291.31 155.02,282.63 155.06,282.21 156.13,278.23 156.64,276.60 157.20,276.88 158.17,277.85 158.26,275.77 159.33,252.93 159.42,251.36 160.40,249.12 160.56,249.63 161.33,256.97 161.47,256.63 162.53,265.04 162.57,265.19 163.60,268.84 163.62,268.44 164.67,278.42 165.25,282.80 165.74,280.81 166.78,277.55 166.80,278.45 167.87,289.09 168.41,292.61 168.94,287.71 169.94,275.89 170.01,275.88 171.07,267.45 171.47,264.93 172.14,253.75 172.61,245.74 173.21,241.89 173.86,237.36 174.28,240.98 175.10,248.71 175.35,252.30 176.15,263.69 176.41,267.49 177.01,276.01 177.48,277.96 178.54,279.26 178.55,278.64 179.62,277.88 180.07,277.46 180.68,280.53 181.70,283.37 181.75,284.02 182.82,286.58 183.23,287.56 183.89,286.14 184.76,283.62 184.95,284.72 186.02,285.32 186.39,285.94 187.09,282.49 188.16,278.71 188.68,275.87 189.23,277.63 190.29,283.14 190.31,282.68 191.36,284.29 192.43,286.16 192.60,286.16 193.50,290.46 194.23,292.91 194.56,293.01 195.63,295.41 196.52,296.54 196.70,297.06 197.77,296.92 198.83,299.59 198.92,299.47 199.90,301.13 200.97,299.87 201.98,301.27 202.04,301.92 203.10,302.08 204.17,302.37 204.37,303.16 205.24,298.78 205.90,296.09 206.18,300.55 206.31,299.19 207.38,289.96 207.71,286.28 208.44,281.70 209.34,277.22 209.51,274.90 210.58,257.64 210.58,257.58 211.64,274.57 211.65,275.20 212.71,276.23 213.26,278.02 213.78,272.50 214.79,260.64 214.85,261.10 215.92,266.01 216.32,268.95 216.98,264.23 217.95,260.08 218.05,259.97 219.12,263.20 219.48,264.66 220.19,256.34 221.01,248.15 221.26,249.75 222.32,260.04 222.63,262.33 223.39,261.84 224.16,261.59 224.46,264.40 225.53,275.10 225.79,276.41 226.59,284.81 227.32,290.52 227.66,289.03 228.73,283.29 228.85,282.79 229.80,282.33 230.48,283.74 230.86,279.77 231.93,272.03 232.01,271.17 233.00,250.04 233.15,246.98 234.07,260.04 234.40,265.85 235.13,278.96 235.16,280.47 236.20,262.29 236.41,258.84 237.27,271.88 237.46,274.26 238.34,285.45 239.08,293.76 239.41,295.53 239.85,296.76 240.47,294.21 241.38,290.14 241.54,290.09 242.61,290.10 243.01,291.12 243.68,292.73 244.54,295.87 244.74,294.07 245.81,286.46 246.07,285.31 246.88,287.46 247.69,292.19 247.95,290.35 249.01,280.09 249.22,278.35 250.08,275.75 251.15,272.95 251.61,272.10 252.22,263.29 253.14,250.37 253.29,251.79 254.35,261.43 254.39,261.11 255.42,270.18 255.92,275.22 256.49,285.15 256.59,286.28 257.56,261.86 257.83,254.78 258.62,278.02 259.07,291.63 259.69,262.12 260.22,235.62 260.76,223.73 260.99,218.98 261.83,226.21 261.85,227.28 262.52,247.69 262.89,246.79 263.57,248.68 263.96,257.25 264.33,265.15 265.03,280.99 265.10,281.94 266.10,286.88 266.72,287.24 267.16,285.45 268.23,280.97 268.25,281.15 269.30,278.51 269.78,276.50 270.37,279.49 271.41,286.95 271.44,286.65 272.50,290.36 272.94,291.71 273.57,288.02 274.64,280.59 274.85,279.56 275.71,286.67 276.38,292.01 276.77,291.29 277.63,288.17 277.84,289.35 278.87,299.01 278.91,298.33 279.98,286.53 280.02,285.96 281.04,262.16 281.55,251.71 282.11,251.34 283.18,247.25 283.65,246.61 284.25,254.98 284.70,261.76 285.32,263.62 286.23,264.18 286.38,265.81 287.45,272.62 287.86,274.61 288.52,267.75 288.63,266.19 289.59,276.19 290.16,283.03 290.65,280.78 291.40,277.07 291.72,281.03 292.55,290.67 292.79,290.31 293.86,285.18 294.08,285.21 294.92,290.65 295.70,294.82 295.99,296.89 296.76,302.06 297.06,299.67 298.00,292.32 298.13,290.89 299.19,288.58 299.53,287.31 300.26,282.26 301.15,278.47 301.33,277.92 302.40,273.54 302.69,272.90 303.35,285.35 303.47,282.42 304.53,261.31 304.60,259.48 305.60,269.84 305.75,271.15 306.67,284.39 307.28,291.35 307.74,295.93 308.42,299.00 308.80,296.76 309.87,292.26 310.43,288.36 310.94,277.07 311.96,255.60 312.01,254.07 313.07,228.23 313.11,227.75 314.07,210.06 314.14,210.83 315.12,218.98 315.21,219.36 316.28,224.43 316.65,226.25 317.35,222.06 318.27,219.35 318.41,221.67 319.48,236.24 319.80,241.09 320.55,247.44 321.43,253.44 321.62,255.17 322.68,262.53 322.96,264.87 323.75,271.12 324.49,275.72 324.82,277.96 325.89,283.93 326.12,285.18 326.95,276.79 327.65,271.03 328.02,267.44 329.09,256.68 329.18,255.94 330.16,247.70 330.80,241.66 331.22,237.24 332.29,224.05 332.33,223.58 333.36,223.99 333.96,223.70 334.43,228.29 335.49,238.63 335.50,239.07 336.56,244.63 337.02,248.16 337.63,254.15 338.70,264.47 339.12,269.11 339.77,258.56 340.65,244.86 340.83,247.62 341.71,256.19 341.90,258.30 342.97,267.63 343.33,271.85 344.04,273.20 344.86,276.14 345.10,277.80 346.17,281.97 346.39,282.13 347.24,286.42 348.02,290.90 348.31,292.58 349.38,296.69 350.31,299.74 350.44,299.16 351.51,288.94 351.94,285.64 352.58,282.39 353.47,279.53 353.65,280.10 354.50,286.34 354.50,286.81' stroke='#f00' stroke-width='1.7'/>
<polyline points='34.31,277.90 34.50,277.89 34.88,265.95 35.37,258.65 35.55,255.98 36.12,245.45 36.44,237.62 36.60,234.26 37.18,232.18 37.51,230.77 38.23,225.77 38.58,232.98 38.71,235.58 39.18,249.19 39.65,261.17 39.76,263.70 40.24,268.71 40.71,265.19 41.67,255.10 41.78,255.94 42.34,259.58 42.85,267.25 42.91,267.54 43.92,269.32 43.97,269.70 44.98,268.80 45.50,267.35 45.97,276.07 46.05,276.05 47.03,272.91 47.12,272.60 48.19,268.57 48.65,267.52 49.25,273.99 49.61,275.72 50.32,272.91 50.66,270.62 51.39,274.01 51.71,275.85 52.46,269.64 52.77,268.56 53.52,273.74 53.82,275.71 54.59,278.03 55.35,279.52 55.66,280.29 56.73,286.03 57.80,288.46 58.22,290.20 58.86,288.27 59.75,283.59 59.93,285.19 61.00,289.87 62.07,294.93 62.14,295.08 63.13,287.26 63.67,284.79 64.20,281.05 65.20,271.93 65.27,271.61 66.34,273.73 66.82,275.02 67.40,271.10 68.35,262.75 68.47,262.84 69.54,263.59 70.61,263.59 70.75,263.53 71.68,267.79 72.28,269.27 72.74,270.44 73.81,274.09 73.81,274.22 74.88,266.30 75.43,262.40 75.95,264.87 76.96,270.58 77.01,270.30 78.08,272.72 79.15,272.73 79.35,273.47 80.22,279.25 80.88,283.98 81.28,281.21 82.35,272.03 83.27,264.68 83.42,266.35 84.04,274.79 84.49,275.06 85.55,278.10 86.62,281.67 87.10,282.03 87.69,282.47 88.76,287.68 89.49,289.17 89.83,288.96 90.89,286.68 91.31,285.97 91.96,278.96 93.03,264.03 93.70,256.41 94.10,260.81 94.46,264.00 95.16,268.89 95.99,275.89 96.23,273.80 97.30,265.93 98.37,256.62 98.39,256.98 99.43,266.62 99.92,269.93 100.50,270.66 101.45,273.94 101.57,274.62 102.64,280.06 103.07,282.68 103.71,284.26 104.77,285.55 105.37,286.95 105.84,279.99 106.91,266.29 106.99,265.05 107.98,271.13 108.52,275.92 109.04,277.40 110.11,277.86 110.91,279.99 111.18,281.14 112.25,284.36 112.45,285.53 113.31,282.96 113.98,281.77 114.38,283.96 115.45,288.44 115.60,288.99 116.52,285.50 117.13,284.70 117.58,286.18 118.65,288.38 119.52,290.98 119.72,290.92 120.79,287.88 121.82,283.81 121.86,284.84 122.92,287.09 123.44,288.92 123.99,291.61 124.97,292.42 125.06,292.48 126.13,285.81 126.50,283.25 127.19,284.21 128.26,288.57 128.90,289.26 129.33,290.52 130.40,291.71 131.19,292.83 131.46,293.34 132.53,297.05 132.82,298.73 133.60,286.38 134.35,275.88 134.67,275.10 135.74,270.75 135.88,269.83 136.80,280.52 137.50,288.41 137.87,289.41 138.94,292.99 139.03,294.13 140.01,277.14 141.04,257.36 141.07,257.31 142.14,259.72 142.95,262.17 143.21,264.61 144.28,273.15 144.48,275.19 145.34,279.34 146.41,284.75 146.88,287.23 147.48,290.71 148.41,294.72 148.55,294.91 149.61,297.82 150.22,299.10 150.68,300.11 151.75,302.22 151.85,303.17 152.82,298.79 153.38,296.48 153.89,292.17 154.91,282.88 154.95,282.68 156.02,278.07 156.54,276.51 157.09,276.48 158.07,277.27 158.16,274.63 159.22,252.80 159.31,251.19 160.29,249.47 160.46,249.72 161.22,256.95 161.36,256.70 162.43,264.84 162.47,265.05 163.49,268.19 163.52,268.08 164.56,278.99 165.14,282.94 165.63,281.06 166.67,277.70 166.70,278.74 167.77,288.88 168.30,292.74 168.83,287.88 169.83,275.92 169.90,275.94 170.97,267.77 171.36,265.05 172.04,253.62 172.51,245.57 173.10,242.53 173.75,237.54 174.17,241.56 174.99,249.12 175.24,253.29 176.05,263.63 176.31,267.45 176.91,276.08 177.37,278.11 178.44,279.43 178.44,278.96 179.51,277.73 179.97,277.38 180.58,280.21 181.59,282.96 181.64,283.17 182.71,286.06 183.12,287.32 183.78,285.72 184.65,283.13 184.85,283.71 185.92,284.20 186.28,285.40 186.98,281.03 188.05,277.59 188.57,275.30 189.12,277.75 190.19,282.58 190.20,282.41 191.25,284.53 192.32,285.61 192.50,285.91 193.39,290.36 194.12,292.90 194.46,292.92 195.52,296.09 196.42,296.98 196.59,297.83 197.66,297.34 198.73,299.09 198.81,299.28 199.80,301.03 200.86,300.04 201.87,301.21 201.93,301.67 203.00,301.51 204.07,301.76 204.26,302.92 205.13,298.64 205.79,296.36 206.08,300.84 206.20,299.64 207.27,290.88 207.61,286.75 208.34,283.43 209.23,277.60 209.40,275.67 210.47,257.20 210.48,257.31 211.53,273.88 211.54,273.84 212.61,275.44 213.15,277.88 213.67,272.19 214.68,260.86 214.74,261.65 215.81,266.79 216.21,269.33 216.88,265.18 217.84,260.38 217.95,260.66 219.01,264.25 219.37,265.15 220.08,257.53 220.90,248.47 221.15,250.57 222.22,260.80 222.53,262.68 223.28,261.88 224.06,261.46 224.35,264.24 225.42,274.35 225.68,276.03 226.49,284.48 227.21,290.76 227.55,289.45 228.62,284.33 228.74,283.32 229.69,283.25 230.37,283.91 230.76,280.05 231.83,271.87 231.90,271.07 232.89,250.12 233.05,246.93 233.96,260.69 234.29,266.16 235.03,279.71 235.06,280.85 236.10,262.21 236.30,258.74 237.16,271.41 237.35,274.02 238.23,285.13 238.98,294.08 239.30,296.10 239.74,297.10 240.37,295.18 241.27,290.39 241.43,290.52 242.50,290.50 242.90,291.36 243.57,292.96 244.43,296.40 244.64,295.03 245.70,286.79 245.96,285.49 246.77,287.60 247.59,292.16 247.84,290.22 248.91,279.50 249.12,278.05 249.98,275.57 251.04,272.91 251.51,272.06 252.11,263.44 253.04,250.17 253.18,251.54 254.25,261.65 254.28,261.18 255.31,270.26 255.81,275.26 256.38,285.40 256.48,286.43 257.45,260.83 257.72,254.19 258.52,277.22 258.97,291.30 259.58,261.36 260.11,235.06 260.65,223.99 260.88,218.95 261.72,227.11 261.74,227.60 262.41,248.26 262.79,248.08 263.46,248.71 263.86,257.50 264.23,265.26 264.92,280.41 264.99,281.67 265.99,285.80 266.62,287.00 267.06,284.90 268.13,281.47 268.15,281.42 269.19,279.46 269.68,276.96 270.26,279.64 271.30,286.71 271.33,286.10 272.40,289.37 272.83,291.26 273.46,288.27 274.53,281.06 274.75,279.80 275.60,287.35 276.28,292.18 276.67,291.55 277.52,288.07 277.73,289.11 278.76,299.11 278.80,298.40 279.87,286.42 279.91,285.93 280.94,262.94 281.44,252.01 282.01,251.84 283.07,248.32 283.55,247.06 284.14,255.52 284.60,262.00 285.21,263.60 286.13,263.60 286.28,264.72 287.34,271.04 287.75,273.82 288.41,266.78 288.52,265.67 289.48,275.99 290.05,283.18 290.55,281.04 291.29,277.08 291.61,281.09 292.44,290.71 292.68,290.31 293.75,285.36 293.97,285.32 294.82,290.86 295.60,294.96 295.89,297.10 296.65,302.10 296.95,299.61 297.89,292.69 298.02,291.56 299.09,288.34 299.42,287.21 300.16,282.71 301.05,278.59 301.22,278.15 302.29,275.05 302.58,273.64 303.25,286.02 303.36,283.71 304.43,261.10 304.49,259.33 305.49,268.68 305.64,270.56 306.56,282.94 307.17,290.78 307.63,294.75 308.32,298.99 308.70,296.62 309.76,292.61 310.33,288.89 310.83,278.03 311.86,255.54 311.90,254.04 312.97,227.91 313.00,227.45 313.96,209.56 314.04,210.19 315.01,218.31 315.10,218.33 316.17,223.55 316.54,225.68 317.24,221.48 318.17,218.96 318.31,221.20 319.37,235.32 319.70,240.54 320.44,246.64 321.32,253.03 321.51,254.50 322.58,261.95 322.85,264.55 323.64,270.25 324.38,275.53 324.71,277.60 325.78,283.44 326.01,284.96 326.85,276.92 327.54,270.94 327.92,267.29 328.98,256.88 329.07,255.97 330.05,247.34 330.70,241.60 331.12,237.28 332.19,223.73 332.23,223.27 333.25,223.52 333.85,223.30 334.32,227.80 335.38,238.51 335.39,239.04 336.46,245.49 336.91,248.52 337.52,254.77 338.59,264.44 339.02,269.08 339.66,257.21 340.55,243.98 340.73,246.04 341.60,255.86 341.79,257.77 342.86,267.76 343.23,271.91 343.93,273.42 344.76,275.71 345.00,276.97 346.07,281.00 346.29,281.66 347.13,285.27 347.91,290.78 348.20,292.29 349.27,296.01 350.21,299.71 350.34,298.99 351.40,287.91 351.83,285.14 352.47,282.29 353.36,279.53 353.54,280.09 354.50,286.82 354.50,287.72' stroke='#0f0' stroke-width='1.7' stroke-dasharray='5.5 4'/>
</g>
<rect x='34.2' y='194.3' width='320.3' height='130.09999999999997' fill='none' stroke='#8c8c8c' stroke-width='1'/>
<line x1='34.2' y1='324.40' x2='37.800000000000004' y2='324.40' stroke='#8c8c8c' stroke-width='0.9'/>
<line x1='354.5' y1='324.40' x2='350.9' y2='324.40' stroke='#8c8c8c' stroke-width='0.9'/>
<text x='31.00' y='327.30' text-anchor='end'>0</text>
<line x1='34.2' y1='305.81' x2='37.800000000000004' y2='305.81' stroke='#8c8c8c' stroke-width='0.9'/>
<line x1='354.5' y1='305.81' x2='350.9' y2='305.81' stroke='#8c8c8c' stroke-width='0.9'/>
<text x='31.00' y='308.71' text-anchor='end'>0.5</text>
<line x1='34.2' y1='287.23' x2='37.800000000000004' y2='287.23' stroke='#8c8c8c' stroke-width='0.9'/>
<line x1='354.5' y1='287.23' x2='350.9' y2='287.23' stroke='#8c8c8c' stroke-width='0.9'/>
<text x='31.00' y='290.13' text-anchor='end'>1</text>
<line x1='34.2' y1='268.64' x2='37.800000000000004' y2='268.64' stroke='#8c8c8c' stroke-width='0.9'/>
<line x1='354.5' y1='268.64' x2='350.9' y2='268.64' stroke='#8c8c8c' stroke-width='0.9'/>
<text x='31.00' y='271.54' text-anchor='end'>1.5</text>
<line x1='34.2' y1='250.06' x2='37.800000000000004' y2='250.06' stroke='#8c8c8c' stroke-width='0.9'/>
<line x1='354.5' y1='250.06' x2='350.9' y2='250.06' stroke='#8c8c8c' stroke-width='0.9'/>
<text x='31.00' y='252.96' text-anchor='end'>2</text>
<line x1='34.2' y1='231.47' x2='37.800000000000004' y2='231.47' stroke='#8c8c8c' stroke-width='0.9'/>
<line x1='354.5' y1='231.47' x2='350.9' y2='231.47' stroke='#8c8c8c' stroke-width='0.9'/>
<text x='31.00' y='234.37' text-anchor='end'>2.5</text>
<line x1='34.2' y1='212.89' x2='37.800000000000004' y2='212.89' stroke='#8c8c8c' stroke-width='0.9'/>
<line x1='354.5' y1='212.89' x2='350.9' y2='212.89' stroke='#8c8c8c' stroke-width='0.9'/>
<text x='31.00' y='215.79' text-anchor='end'>3</text>
<line x1='34.2' y1='194.30' x2='37.800000000000004' y2='194.30' stroke='#8c8c8c' stroke-width='0.9'/>
<line x1='354.5' y1='194.30' x2='350.9' y2='194.30' stroke='#8c8c8c' stroke-width='0.9'/>
<text x='31.00' y='197.20' text-anchor='end'>3.5</text>
<line x1='34.20' y1='324.4' x2='34.20' y2='321.0' stroke='#8c8c8c' stroke-width='0.8'/>
<line x1='34.20' y1='194.3' x2='34.20' y2='197.70000000000002' stroke='#8c8c8c' stroke-width='0.8'/>
<text x='34.20' y='334.80' text-anchor='middle'>0</text>
<line x1='140.97' y1='324.4' x2='140.97' y2='321.0' stroke='#8c8c8c' stroke-width='0.8'/>
<line x1='140.97' y1='194.3' x2='140.97' y2='197.70000000000002' stroke='#8c8c8c' stroke-width='0.8'/>
<text x='140.97' y='334.80' text-anchor='middle'>500</text>
<line x1='247.73' y1='324.4' x2='247.73' y2='321.0' stroke='#8c8c8c' stroke-width='0.8'/>
<line x1='247.73' y1='194.3' x2='247.73' y2='197.70000000000002' stroke='#8c8c8c' stroke-width='0.8'/>
<text x='247.73' y='334.80' text-anchor='middle'>1000</text>
<line x1='354.50' y1='324.4' x2='354.50' y2='321.0' stroke='#8c8c8c' stroke-width='0.8'/>
<line x1='354.50' y1='194.3' x2='354.50' y2='197.70000000000002' stroke='#8c8c8c' stroke-width='0.8'/>
<text x='354.50' y='334.80' text-anchor='middle'>1500</text>
<text x='194.60' y='345.80' text-anchor='middle' font-size='8'>time/h</text>
<text transform='translate(16.8,259.35) rotate(-90)' text-anchor='middle' font-size='8.3'>significant wave height/m</text>
<text x='184.4' y='363.2' text-anchor='middle' font-family='Liberation Serif, serif' font-weight='bold' font-size='10.8' fill='#111'>(b)</text>
<rect x='255.3' y='200.0' width='93.69999999999999' height='29.099999999999994' fill='#fff' stroke='#8c8c8c' stroke-width='1'/>
<line x1='257.3' y1='205.3' x2='278.8' y2='205.3' stroke='#000' stroke-width='2'/>
<text x='281.1' y='208.00' fill='#111' font-size='6.8'>Observed</text>
<line x1='257.3' y1='214.8' x2='278.8' y2='214.8' stroke='#f00' stroke-width='2'/>
<text x='281.1' y='217.50' fill='#111' font-size='6.8'>SWH as input</text>
<line x1='257.3' y1='223.4' x2='278.8' y2='223.4' stroke='#0f0' stroke-width='2' stroke-dasharray='5.5 5.2'/>
<text x='281.1' y='226.10' fill='#111' font-size='6.8'>SWH and WS as input</text>
<rect x='92.2' y='196.3' width='60.499999999999986' height='22.5' fill='#fff' stroke='#8c8c8c' stroke-width='0.8'/>
<line x1='100.1' y1='218.8' x2='100.1' y2='217.3' stroke='#8c8c8c' stroke-width='0.6'/>
<line x1='100.1' y1='196.3' x2='100.1' y2='197.8' stroke='#8c8c8c' stroke-width='0.6'/>
<text x='100.1' y='226.70000000000002' text-anchor='middle' font-size='6.5'>640</text>
<line x1='115.0' y1='218.8' x2='115.0' y2='217.3' stroke='#8c8c8c' stroke-width='0.6'/>
<line x1='115.0' y1='196.3' x2='115.0' y2='197.8' stroke='#8c8c8c' stroke-width='0.6'/>
<text x='115.0' y='226.70000000000002' text-anchor='middle' font-size='6.5'>650</text>
<line x1='130.0' y1='218.8' x2='130.0' y2='217.3' stroke='#8c8c8c' stroke-width='0.6'/>
<line x1='130.0' y1='196.3' x2='130.0' y2='197.8' stroke='#8c8c8c' stroke-width='0.6'/>
<text x='130.0' y='226.70000000000002' text-anchor='middle' font-size='6.5'>660</text>
<line x1='144.8' y1='218.8' x2='144.8' y2='217.3' stroke='#8c8c8c' stroke-width='0.6'/>
<line x1='144.8' y1='196.3' x2='144.8' y2='197.8' stroke='#8c8c8c' stroke-width='0.6'/>
<text x='144.8' y='226.70000000000002' text-anchor='middle' font-size='6.5'>670</text>
<line x1='92.2' y1='214.8' x2='93.7' y2='214.8' stroke='#8c8c8c' stroke-width='0.6'/>
<text x='91.0' y='216.60' text-anchor='end' font-size='5.4' font-weight='bold' letter-spacing='-0.25' fill='#333'>2.32</text>
<line x1='92.2' y1='211.05' x2='93.7' y2='211.05' stroke='#8c8c8c' stroke-width='0.6'/>
<text x='91.0' y='212.85' text-anchor='end' font-size='5.4' font-weight='bold' letter-spacing='-0.25' fill='#333'>2.34</text>
<line x1='92.2' y1='207.3' x2='93.7' y2='207.3' stroke='#8c8c8c' stroke-width='0.6'/>
<text x='91.0' y='209.10' text-anchor='end' font-size='5.4' font-weight='bold' letter-spacing='-0.25' fill='#333'>2.36</text>
<line x1='92.2' y1='203.55' x2='93.7' y2='203.55' stroke='#8c8c8c' stroke-width='0.6'/>
<text x='91.0' y='205.35' text-anchor='end' font-size='5.4' font-weight='bold' letter-spacing='-0.25' fill='#333'>2.38</text>
<line x1='92.2' y1='199.8' x2='93.7' y2='199.8' stroke='#8c8c8c' stroke-width='0.6'/>
<text x='91.0' y='201.60' text-anchor='end' font-size='5.4' font-weight='bold' letter-spacing='-0.25' fill='#333'>2.4</text>
<line x1='118.8' y1='210.4' x2='118.8' y2='218.8' stroke='#000' stroke-width='1.3'/>
<polygon points='119.3,218.8 120.7,203 122.3,203 123.6,218.8' fill='#f00'/>
<polygon points='120.6,203.4 121.0,198.0 122.0,198.0 122.3,203.4' fill='#000'/>
<polygon points='120.6,209 121.0,206 122.0,206 122.3,209' fill='#0f0'/>
<polygon points='119.6,218.8 120.0,214.2 121.2,214.2 121.2,218.8' fill='#0f0'/>
<polygon points='121.8,218.8 121.8,214.2 123.0,214.2 123.4,218.8' fill='#0f0'/>
<line x1='139.6' y1='227.3' x2='165.01' y2='231.70' stroke='#222' stroke-width='0.8'/><polygon points='171.40,232.80 161.97,234.52 165.01,231.70 163.09,228.01' fill='#000'/>
<clipPath id='clipc'><rect x='35.3' y='372.3' width='320.2' height='133.7'/></clipPath>
<g clip-path='url(#clipc)' fill='none' stroke-linejoin='round'>
<polyline points='35.30,459.07 35.49,459.34 35.87,447.36 36.37,439.94 36.54,436.96 37.12,427.05 37.43,420.18 37.59,415.60 38.17,413.08 38.50,411.84 39.22,408.72 39.57,413.74 39.70,417.60 40.18,432.67 40.64,444.58 40.75,446.13 41.23,448.79 41.70,443.87 42.66,435.95 42.77,436.92 43.33,440.86 43.84,449.20 43.90,449.16 44.91,448.53 44.96,450.00 45.97,449.04 46.49,448.07 46.96,459.37 47.04,461.00 48.02,454.82 48.11,454.89 49.18,449.27 49.64,448.49 50.24,456.29 50.60,457.73 51.31,455.93 51.65,452.79 52.38,456.15 52.70,457.79 53.44,449.55 53.75,449.15 54.51,458.16 54.80,458.78 55.58,459.75 56.33,460.91 56.65,461.29 57.71,471.74 58.78,470.59 59.20,472.45 59.85,469.53 60.73,465.57 60.92,467.23 61.98,475.58 63.05,474.91 63.12,476.33 64.12,467.21 64.65,465.66 65.19,460.57 66.18,454.89 66.25,456.03 67.32,456.91 67.81,457.45 68.39,455.27 69.34,442.85 69.45,441.96 70.52,447.33 71.59,448.52 71.73,446.55 72.66,450.04 73.26,449.24 73.72,449.08 74.79,454.72 74.79,453.89 75.86,449.98 76.41,444.64 76.93,448.38 77.94,451.22 77.99,450.14 79.06,454.25 80.13,452.83 80.33,454.31 81.20,462.83 81.86,467.47 82.26,466.05 83.33,452.25 84.25,446.33 84.40,448.56 85.02,457.53 85.46,458.94 86.53,456.61 87.60,462.44 88.08,463.38 88.67,461.46 89.73,472.75 90.47,470.18 90.80,468.74 91.87,470.22 92.28,468.77 92.94,458.77 94.00,445.82 94.67,438.15 95.07,443.68 95.44,446.07 96.14,449.64 96.97,455.99 97.21,452.25 98.27,448.26 99.34,439.13 99.36,438.65 100.41,447.51 100.89,451.14 101.47,453.37 102.42,456.48 102.54,458.15 103.61,464.04 104.04,465.70 104.68,469.00 105.74,468.69 106.34,469.18 106.81,462.01 107.88,448.65 107.96,446.79 108.95,450.92 109.49,458.57 110.01,461.13 111.08,459.31 111.88,462.37 112.15,464.10 113.22,466.06 113.41,467.45 114.28,466.88 114.94,464.53 115.35,467.65 116.42,473.70 116.57,472.74 117.48,466.19 118.10,467.23 118.55,469.27 119.62,472.40 120.49,473.46 120.69,473.55 121.75,467.39 122.78,466.95 122.82,469.17 123.89,466.08 124.41,469.57 124.96,474.14 125.94,474.76 126.02,474.78 127.09,465.65 127.47,464.10 128.16,465.75 129.23,471.13 129.86,470.62 130.29,471.05 131.36,471.06 132.15,475.42 132.43,476.15 133.49,477.65 133.78,480.40 134.56,466.51 135.31,457.10 135.63,455.85 136.70,452.33 136.84,451.30 137.76,463.85 138.46,471.59 138.83,473.63 139.90,477.27 139.99,477.52 140.97,462.46 142.00,438.29 142.03,438.33 143.10,443.58 143.91,444.56 144.17,448.45 145.24,457.66 145.44,458.30 146.30,459.14 147.37,465.91 147.83,468.94 148.44,473.68 149.36,478.18 149.50,479.36 150.57,482.55 151.18,482.52 151.64,484.32 152.71,484.80 152.81,485.90 153.77,483.01 154.34,479.02 154.84,474.51 155.87,465.32 155.91,465.61 156.98,457.09 157.49,456.83 158.04,455.93 159.02,452.92 159.11,449.34 160.18,420.82 160.26,418.18 161.25,419.00 161.41,422.05 162.18,436.66 162.31,437.65 163.38,447.17 163.42,446.81 164.45,452.53 164.47,450.90 165.51,461.62 166.10,464.66 166.58,462.46 167.63,459.47 167.65,460.60 168.72,472.65 169.25,474.81 169.78,469.41 170.78,459.21 170.85,460.87 171.92,451.01 172.31,447.19 172.99,438.47 173.46,427.98 174.05,424.38 174.70,419.33 175.12,425.35 175.94,431.13 176.19,437.01 176.99,445.40 177.26,450.05 177.86,458.82 178.32,462.02 179.39,460.69 179.39,459.65 180.46,459.47 180.91,459.10 181.52,461.44 182.54,464.91 182.59,465.12 183.66,467.64 184.07,469.22 184.73,465.85 185.60,465.98 185.79,467.46 186.86,466.89 187.23,467.81 187.93,459.73 189.00,461.77 189.52,458.15 190.06,458.14 191.13,464.91 191.15,464.54 192.20,470.25 193.27,466.38 193.44,467.35 194.33,470.91 195.07,474.69 195.40,474.09 196.47,477.69 197.36,478.96 197.53,479.25 198.60,480.80 199.67,481.68 199.75,481.92 200.74,483.98 201.80,480.91 202.81,483.65 202.87,483.81 203.94,483.01 205.01,483.98 205.20,485.48 206.07,478.42 206.73,477.95 207.02,482.62 207.14,480.41 208.21,471.30 208.55,467.94 209.28,465.93 210.17,460.65 210.34,459.95 211.41,439.46 211.41,438.86 212.47,455.86 212.48,456.23 213.54,459.29 214.09,458.78 214.61,452.01 215.62,441.79 215.68,442.55 216.75,446.29 217.15,449.81 217.81,444.22 218.78,440.12 218.88,439.18 219.95,443.84 220.31,445.56 221.02,439.77 221.84,427.51 222.08,428.27 223.15,439.97 223.46,442.84 224.22,442.54 224.99,442.44 225.29,445.31 226.35,455.65 226.62,457.55 227.42,469.79 228.15,472.45 228.49,470.46 229.55,467.96 229.68,466.10 230.62,467.48 231.30,466.14 231.69,462.33 232.76,451.91 232.83,451.79 233.82,430.67 233.98,427.33 234.89,438.83 235.22,445.96 235.96,458.06 235.99,460.98 237.03,444.31 237.23,440.16 238.09,454.57 238.28,456.44 239.16,467.72 239.91,475.83 240.23,477.24 240.67,478.98 241.30,476.01 242.20,472.09 242.36,471.64 243.43,471.34 243.83,472.97 244.50,477.36 245.36,479.98 245.56,479.59 246.63,470.65 246.89,468.43 247.70,468.43 248.51,475.66 248.77,474.76 249.83,461.02 250.04,459.66 250.90,459.11 251.97,456.54 252.43,454.61 253.04,444.99 253.96,430.04 254.10,430.82 255.17,441.29 255.20,441.49 256.24,449.72 256.73,455.92 257.31,468.34 257.40,468.98 258.37,441.07 258.65,434.51 259.44,458.36 259.89,473.35 260.51,442.88 261.04,415.17 261.57,405.58 261.80,399.20 262.64,403.00 262.66,405.32 263.33,429.31 263.71,429.74 264.38,428.15 264.78,436.31 265.15,445.43 265.84,460.75 265.91,462.82 266.91,471.46 267.54,468.82 267.98,466.32 269.05,460.26 269.07,461.75 270.11,458.25 270.60,457.15 271.18,460.96 272.22,469.23 272.25,469.00 273.32,473.95 273.75,474.75 274.38,468.08 275.45,464.64 275.67,462.47 276.52,469.73 277.19,476.29 277.58,477.37 278.44,470.02 278.65,470.86 279.68,480.39 279.72,478.27 280.79,470.59 280.83,469.05 281.85,440.70 282.36,430.95 282.92,431.56 283.99,424.74 284.46,425.44 285.06,433.65 285.51,441.73 286.12,446.41 287.04,443.87 287.19,444.21 288.26,453.69 288.67,455.98 289.33,452.03 289.43,448.87 290.39,460.76 290.96,465.39 291.46,463.39 292.21,458.88 292.53,463.15 293.35,474.04 293.59,474.66 294.66,469.12 294.88,468.23 295.73,474.42 296.51,478.00 296.80,480.78 297.56,484.01 297.86,480.52 298.80,476.38 298.93,476.50 300.00,469.74 300.33,468.96 301.07,461.58 301.96,461.31 302.13,461.81 303.20,453.11 303.49,453.42 304.16,467.34 304.27,464.14 305.34,440.94 305.40,439.67 306.40,452.28 306.55,453.11 307.47,466.70 308.08,474.04 308.54,479.14 309.22,479.95 309.60,475.77 310.67,474.96 311.23,471.54 311.74,460.62 312.76,436.46 312.81,435.06 313.87,409.41 313.91,407.96 314.87,390.03 314.94,392.41 315.92,399.01 316.01,400.61 317.08,401.44 317.45,404.40 318.14,402.32 319.07,397.40 319.21,399.03 320.28,417.46 320.60,421.77 321.35,429.31 322.23,434.09 322.41,436.03 323.48,444.60 323.76,446.51 324.55,452.50 325.29,455.56 325.61,456.12 326.68,462.37 326.91,465.48 327.75,455.50 328.44,452.09 328.82,447.99 329.88,434.69 329.97,435.25 330.95,424.70 331.60,420.98 332.02,415.71 333.09,401.04 333.13,401.59 334.15,405.51 334.75,401.88 335.22,405.83 336.28,418.20 336.29,418.43 337.36,422.31 337.81,427.22 338.42,433.58 339.49,446.10 339.92,450.69 340.56,440.50 341.45,423.44 341.62,424.81 342.50,437.69 342.69,440.74 343.76,448.38 344.12,453.05 344.83,454.86 345.65,458.39 345.89,460.74 346.96,462.58 347.18,463.42 348.03,465.63 348.81,474.29 349.10,477.07 350.16,478.37 351.10,483.52 351.23,483.89 352.30,470.68 352.73,467.49 353.37,464.84 354.26,461.88 354.43,463.01 355.40,469.74 355.50,471.46' stroke='#000' stroke-width='2.0'/>
<polyline points='35.62,459.87 35.81,459.75 36.19,448.35 36.69,441.56 36.86,438.67 37.44,428.41 37.75,421.10 37.91,417.50 38.49,414.76 38.82,413.11 39.54,407.42 39.89,414.28 40.02,417.28 40.50,430.65 40.96,442.06 41.07,445.16 41.55,450.42 42.02,446.71 42.98,437.66 43.09,438.62 43.65,442.28 44.16,450.14 44.23,450.00 45.23,452.72 45.28,452.38 46.29,451.85 46.81,449.92 47.28,458.52 47.36,459.17 48.34,455.33 48.43,455.57 49.50,450.99 49.96,449.77 50.56,454.86 50.92,457.03 51.63,453.44 51.97,451.90 52.70,455.09 53.02,457.27 53.76,452.11 54.07,450.81 54.83,455.87 55.12,457.65 55.90,460.06 56.65,461.14 56.97,461.82 58.03,468.20 59.10,470.21 59.52,471.74 60.17,469.37 61.05,464.97 61.24,466.34 62.30,471.38 63.37,476.45 63.44,476.46 64.44,468.30 64.97,466.20 65.51,462.42 66.50,454.27 66.57,454.37 67.64,456.73 68.13,457.42 68.71,453.38 69.66,445.02 69.77,445.19 70.84,445.98 71.91,445.89 72.05,445.76 72.98,448.76 73.58,451.14 74.04,452.14 75.11,456.15 75.11,456.47 76.18,449.72 76.73,444.73 77.25,447.24 78.26,452.66 78.31,452.52 79.38,454.29 80.45,455.28 80.65,455.67 81.52,461.13 82.18,465.59 82.58,462.94 83.65,453.33 84.57,446.57 84.72,447.94 85.34,456.26 85.78,456.15 86.85,459.06 87.92,462.82 88.40,463.41 88.99,464.65 90.05,469.61 90.79,470.43 91.12,470.07 92.19,466.89 92.60,466.84 93.26,459.52 94.32,445.77 94.99,438.56 95.39,442.62 95.76,445.93 96.46,450.55 97.29,457.50 97.53,455.28 98.59,448.30 99.66,439.22 99.68,439.45 100.73,448.64 101.21,451.88 101.79,452.27 102.74,455.56 102.86,455.97 103.93,461.65 104.36,464.24 105.00,466.19 106.06,467.69 106.66,468.56 107.13,461.94 108.20,448.23 108.28,447.10 109.27,453.27 109.81,458.02 110.33,459.76 111.40,460.37 112.20,461.55 112.47,462.54 113.54,465.53 113.73,466.86 114.60,464.50 115.26,463.46 115.67,465.64 116.74,470.48 116.89,470.71 117.80,467.82 118.42,466.81 118.87,468.81 119.94,469.54 120.81,471.91 121.01,471.40 122.07,467.75 123.10,464.78 123.14,465.20 124.21,467.72 124.73,469.92 125.28,472.68 126.26,473.52 126.34,473.36 127.41,466.53 127.79,464.44 128.48,464.87 129.55,470.14 130.18,470.64 130.61,471.83 131.68,473.28 132.47,474.13 132.75,474.63 133.81,478.85 134.10,480.18 134.88,467.88 135.63,457.32 135.95,456.21 137.02,451.89 137.16,451.41 138.08,462.79 138.78,470.24 139.15,471.62 140.22,475.36 140.31,475.93 141.29,459.41 142.32,440.29 142.35,440.83 143.42,442.79 144.23,444.38 144.49,446.75 145.56,454.99 145.76,456.99 146.62,461.24 147.69,466.98 148.15,469.04 148.76,472.88 149.68,475.95 149.82,476.10 150.89,479.45 151.50,480.51 151.96,481.76 153.03,483.78 153.13,484.44 154.09,479.98 154.66,477.30 155.16,472.73 156.19,464.26 156.23,463.85 157.30,459.97 157.81,458.38 158.36,458.65 159.34,459.71 159.43,457.70 160.50,435.55 160.58,434.03 161.57,431.71 161.73,432.19 162.50,439.25 162.63,438.90 163.70,447.10 163.74,447.24 164.77,450.81 164.79,450.41 165.83,460.15 166.42,464.43 166.90,462.49 167.95,459.30 167.97,460.18 169.04,470.57 169.57,474.00 170.10,469.22 171.10,457.68 171.17,457.67 172.24,449.45 172.63,446.98 173.31,436.07 173.78,428.25 174.37,424.51 175.02,420.08 175.44,423.62 176.26,431.15 176.51,434.66 177.32,445.78 177.58,449.48 178.18,457.80 178.64,459.70 179.71,460.97 179.71,460.36 180.78,459.62 181.24,459.21 181.84,462.21 182.86,464.99 182.91,465.61 183.98,468.11 184.39,469.07 185.05,467.68 185.92,465.23 186.11,466.30 187.18,466.88 187.55,467.49 188.25,464.12 189.32,460.43 189.84,457.66 190.38,459.38 191.45,464.76 191.47,464.30 192.52,465.88 193.59,467.71 193.76,467.71 194.65,471.90 195.39,474.29 195.72,474.39 196.79,476.74 197.68,477.84 197.85,478.34 198.92,478.21 199.99,480.82 200.07,480.70 201.06,482.31 202.12,481.09 203.13,482.45 203.19,483.08 204.26,483.24 205.33,483.52 205.52,484.30 206.39,480.02 207.05,477.40 207.34,481.75 207.46,480.42 208.53,471.41 208.87,467.82 209.60,463.35 210.49,458.98 210.66,456.72 211.73,439.88 211.73,439.82 212.79,456.39 212.80,457.01 213.86,458.02 214.41,459.76 214.93,454.37 215.94,442.79 216.00,443.25 217.07,448.04 217.47,450.91 218.13,446.31 219.10,442.26 219.20,442.15 220.27,445.30 220.63,446.72 221.34,438.60 222.16,430.61 222.40,432.17 223.47,442.21 223.78,444.45 224.54,443.97 225.31,443.72 225.61,446.47 226.67,456.91 226.94,458.19 227.74,466.39 228.47,471.96 228.81,470.51 229.87,464.90 230.00,464.41 230.94,463.97 231.62,465.35 232.01,461.47 233.08,453.91 233.15,453.07 234.14,432.45 234.30,429.47 235.21,442.22 235.54,447.89 236.28,460.68 236.31,462.15 237.35,444.41 237.55,441.04 238.41,453.77 238.60,456.09 239.48,467.01 240.23,475.12 240.55,476.85 240.99,478.05 241.62,475.56 242.52,471.59 242.68,471.54 243.75,471.55 244.15,472.55 244.82,474.11 245.68,477.18 245.88,475.43 246.95,467.99 247.21,466.87 248.02,468.98 248.83,473.59 249.09,471.80 250.15,461.78 250.36,460.08 251.22,457.55 252.29,454.81 252.75,453.99 253.36,445.38 254.28,432.78 254.42,434.16 255.49,443.57 255.52,443.26 256.56,452.11 257.05,457.03 257.63,466.72 257.72,467.83 258.69,443.99 258.97,437.08 259.76,459.76 260.21,473.05 260.83,444.25 261.36,418.39 261.89,406.78 262.12,402.15 262.96,409.20 262.98,410.24 263.65,430.16 264.03,429.28 264.70,431.13 265.10,439.49 265.47,447.20 266.16,462.66 266.23,463.59 267.23,468.40 267.86,468.76 268.30,467.01 269.37,462.64 269.39,462.82 270.43,460.24 270.92,458.27 271.50,461.19 272.54,468.48 272.57,468.18 273.64,471.80 274.07,473.12 274.70,469.52 275.77,462.27 275.99,461.27 276.84,468.20 277.52,473.41 277.90,472.71 278.76,469.67 278.97,470.82 280.00,480.25 280.04,479.58 281.11,468.07 281.15,467.51 282.17,444.28 282.68,434.09 283.24,433.72 284.31,429.73 284.78,429.11 285.38,437.27 285.83,443.89 286.44,445.70 287.36,446.26 287.51,447.84 288.58,454.49 288.99,456.44 289.65,449.74 289.75,448.22 290.71,457.98 291.28,464.65 291.78,462.45 292.53,458.83 292.85,462.70 293.67,472.11 293.91,471.75 294.98,466.75 295.20,466.78 296.05,472.09 296.83,476.16 297.12,478.18 297.88,483.22 298.18,480.89 299.12,473.72 299.25,472.33 300.32,470.07 300.65,468.83 301.39,463.90 302.28,460.20 302.45,459.67 303.52,455.39 303.81,454.77 304.48,466.91 304.59,464.05 305.66,443.45 305.72,441.67 306.72,451.78 306.87,453.06 307.79,465.97 308.40,472.77 308.86,477.24 309.54,480.23 309.92,478.05 310.99,473.65 311.55,469.85 312.06,458.84 313.08,437.88 313.13,436.38 314.19,411.17 314.23,410.70 315.19,393.44 315.26,394.19 316.24,402.14 316.33,402.51 317.40,407.46 317.77,409.24 318.46,405.15 319.39,402.50 319.53,404.76 320.60,418.99 320.92,423.71 321.67,429.92 322.55,435.77 322.73,437.46 323.80,444.64 324.08,446.93 324.87,453.02 325.61,457.51 325.93,459.70 327.00,465.52 327.23,466.75 328.07,458.56 328.76,452.94 329.14,449.44 330.20,438.94 330.29,438.21 331.27,430.17 331.92,424.28 332.34,419.96 333.41,407.09 333.45,406.63 334.47,407.03 335.07,406.74 335.54,411.23 336.60,421.32 336.61,421.75 337.68,427.17 338.13,430.62 338.74,436.46 339.81,446.54 340.24,451.06 340.88,440.77 341.77,427.40 341.94,430.10 342.82,438.46 343.01,440.52 344.08,449.62 344.44,453.74 345.15,455.06 345.97,457.92 346.21,459.55 347.28,463.62 347.50,463.77 348.35,467.96 349.13,472.33 349.42,473.97 350.48,477.98 351.42,480.95 351.55,480.39 352.62,470.42 353.05,467.20 353.69,464.03 354.58,461.24 354.75,461.79 355.50,467.88 355.50,468.34' stroke='#f00' stroke-width='1.7'/>
<polyline points='35.41,459.64 35.60,459.63 35.98,448.04 36.47,440.95 36.65,438.37 37.22,428.14 37.54,420.54 37.70,417.57 38.28,417.75 38.61,417.65 39.33,415.55 39.68,421.27 39.80,423.30 40.28,434.68 40.74,444.55 40.86,446.57 41.33,450.72 41.81,447.30 42.77,437.51 42.88,438.32 43.44,441.86 43.95,449.30 44.01,449.58 45.01,451.32 45.06,451.68 46.08,450.81 46.59,449.40 47.07,457.86 47.15,457.85 48.12,454.80 48.21,454.50 49.28,450.58 49.75,449.57 50.35,455.85 50.70,457.52 51.42,454.80 51.76,452.57 52.48,455.87 52.81,457.66 53.55,451.62 53.86,450.57 54.62,455.61 54.91,457.52 55.69,459.77 56.44,461.21 56.75,461.97 57.82,467.54 58.89,469.89 59.31,471.59 59.96,469.72 60.84,465.17 61.02,466.73 62.09,471.26 63.16,476.17 63.23,476.33 64.22,468.73 64.76,466.34 65.29,462.70 66.29,453.85 66.36,453.53 67.43,455.59 67.91,456.85 68.49,453.04 69.44,444.94 69.56,445.03 70.63,445.75 71.70,445.75 71.83,445.69 72.76,449.83 73.36,451.26 73.83,452.40 74.89,455.95 74.90,456.07 75.97,448.38 76.52,444.60 77.03,446.99 78.05,452.54 78.10,452.27 79.17,454.61 80.23,454.62 80.44,455.34 81.30,460.95 81.97,465.55 82.37,462.85 83.44,453.95 84.36,446.81 84.50,448.43 85.12,456.63 85.57,456.88 86.64,459.84 87.71,463.30 88.18,463.65 88.77,464.08 89.84,469.13 90.57,470.59 90.91,470.38 91.98,468.17 92.39,467.48 93.04,460.67 94.11,446.18 94.78,438.78 95.18,443.06 95.55,446.15 96.24,450.89 97.08,457.69 97.31,455.66 98.38,448.02 99.45,438.98 99.47,439.33 100.51,448.69 101.00,451.90 101.58,452.62 102.53,455.80 102.65,456.46 103.72,461.74 104.15,464.28 104.78,465.82 105.85,467.07 106.45,468.43 106.92,461.67 107.99,448.38 108.07,447.17 109.05,453.07 109.60,457.72 110.12,459.16 111.19,459.61 111.99,461.68 112.25,462.79 113.32,465.92 113.52,467.05 114.39,464.56 115.05,463.40 115.46,465.52 116.52,469.88 116.68,470.41 117.59,467.02 118.21,466.25 118.66,467.68 119.73,469.81 120.60,472.34 120.79,472.28 121.86,469.34 122.89,465.38 122.93,466.39 124.00,468.57 124.52,470.34 125.06,472.96 126.05,473.74 126.13,473.80 127.20,467.32 127.58,464.84 128.26,465.77 129.33,470.00 129.97,470.67 130.40,471.89 131.47,473.05 132.26,474.13 132.53,474.63 133.60,478.24 133.89,479.87 134.67,467.88 135.42,457.68 135.74,456.92 136.80,452.71 136.95,451.81 137.87,462.19 138.57,469.84 138.94,470.82 140.01,474.30 140.10,475.40 141.07,458.91 142.11,439.70 142.14,439.65 143.21,441.99 144.02,444.38 144.27,446.74 145.34,455.03 145.55,457.02 146.41,461.04 147.48,466.29 147.94,468.70 148.54,472.08 149.47,475.98 149.61,476.16 150.68,478.99 151.29,480.23 151.75,481.20 152.81,483.25 152.91,484.17 153.88,479.92 154.44,477.68 154.95,473.50 155.97,464.47 156.02,464.29 157.08,459.80 157.60,458.30 158.15,458.26 159.13,459.18 159.22,456.63 160.28,435.61 160.37,434.06 161.35,432.23 161.52,432.45 162.28,439.34 162.42,439.07 163.49,446.97 163.52,447.17 164.55,450.22 164.58,450.11 165.62,460.70 166.20,464.54 166.69,462.71 167.73,459.45 167.76,460.46 168.82,470.31 169.36,474.05 169.89,469.33 170.89,457.72 170.96,457.74 172.03,449.81 172.42,447.16 173.09,436.08 173.56,428.25 174.16,425.30 174.81,420.46 175.23,424.36 176.05,431.70 176.29,435.75 177.10,445.79 177.36,449.50 177.96,457.87 178.43,459.85 179.49,461.13 179.50,460.68 180.56,459.48 181.02,459.14 181.63,461.89 182.65,464.56 182.70,464.76 183.77,467.56 184.18,468.79 184.83,467.24 185.71,464.72 185.90,465.29 186.97,465.76 187.33,466.92 188.04,462.69 189.10,459.34 189.63,457.12 190.17,459.50 191.24,464.18 191.25,464.02 192.30,466.08 193.37,467.13 193.55,467.42 194.44,471.74 195.17,474.21 195.51,474.23 196.57,477.30 197.47,478.17 197.64,479.00 198.71,478.52 199.78,480.21 199.86,480.40 200.84,482.10 201.91,481.14 202.92,482.27 202.98,482.72 204.05,482.57 205.11,482.81 205.31,483.94 206.18,479.78 206.84,477.56 207.12,481.91 207.25,480.75 208.31,472.24 208.65,468.24 209.38,465.01 210.28,459.35 210.45,457.47 211.52,439.55 211.52,439.65 212.57,455.74 212.58,455.70 213.65,457.26 214.20,459.62 214.72,454.10 215.73,443.10 215.79,443.87 216.85,448.86 217.26,451.32 217.92,447.30 218.88,442.64 218.99,442.91 220.06,446.39 220.41,447.27 221.12,439.87 221.94,431.08 222.19,433.11 223.26,443.04 223.57,444.87 224.32,444.09 225.10,443.68 225.39,446.38 226.46,456.19 226.72,457.83 227.53,466.04 228.25,472.13 228.59,470.85 229.66,465.88 229.78,464.90 230.73,464.84 231.41,465.48 231.80,461.73 232.86,453.79 232.94,453.02 233.93,432.68 234.09,429.58 235.00,442.94 235.33,448.25 236.07,461.40 236.09,462.51 237.13,444.41 237.34,441.04 238.20,453.34 238.39,455.87 239.27,466.66 240.01,475.35 240.33,477.31 240.78,478.28 241.40,476.42 242.31,471.77 242.47,471.89 243.54,471.87 243.93,472.71 244.60,474.27 245.46,477.60 245.67,476.28 246.74,468.28 246.99,467.01 247.81,469.06 248.62,473.49 248.87,471.60 249.94,461.20 250.15,459.79 251.01,457.38 252.08,454.80 252.54,453.98 253.14,445.60 254.07,432.73 254.21,434.05 255.28,443.87 255.31,443.41 256.34,452.22 256.84,457.09 257.41,466.92 257.51,467.92 258.48,443.07 258.75,436.62 259.55,458.98 260.00,472.65 260.61,443.58 261.14,418.05 261.68,407.31 261.91,402.41 262.75,410.34 262.77,410.81 263.44,430.87 263.82,430.69 264.49,431.31 264.88,439.84 265.25,447.37 265.95,462.08 266.02,463.30 267.02,467.32 267.64,468.48 268.09,466.44 269.15,463.11 269.17,463.06 270.22,461.16 270.70,458.73 271.29,461.33 272.33,468.19 272.35,467.61 273.42,470.78 273.86,472.61 274.49,469.71 275.56,462.71 275.77,461.49 276.62,468.82 277.30,473.51 277.69,472.90 278.54,469.52 278.76,470.52 279.79,480.23 279.83,479.55 280.89,467.92 280.93,467.44 281.96,445.12 282.46,434.51 283.03,434.34 284.10,430.93 284.57,429.71 285.16,437.92 285.62,444.21 286.23,445.76 287.15,445.76 287.30,446.84 288.36,452.98 288.77,455.68 289.43,448.85 289.54,447.77 290.50,457.79 291.07,464.77 291.57,462.69 292.31,458.85 292.63,462.74 293.46,472.08 293.70,471.69 294.77,466.88 294.99,466.84 295.84,472.23 296.61,476.21 296.90,478.29 297.67,483.14 297.97,480.72 298.91,474.00 299.04,472.90 300.11,469.78 300.44,468.69 301.17,464.32 302.06,460.31 302.24,459.89 303.31,456.88 303.59,455.51 304.26,467.52 304.37,465.28 305.44,443.34 305.51,441.61 306.51,450.69 306.65,452.52 307.58,464.54 308.18,472.15 308.64,476.00 309.33,480.12 309.71,477.82 310.78,473.93 311.34,470.31 311.85,459.77 312.87,437.93 312.91,436.48 313.98,406.25 314.02,405.58 314.97,382.38 315.05,383.49 316.02,397.72 316.12,398.33 317.18,406.88 317.55,408.95 318.25,404.87 319.18,402.42 319.32,404.60 320.38,418.30 320.71,423.37 321.45,429.30 322.33,435.50 322.52,436.93 323.59,444.16 323.86,446.68 324.65,452.22 325.39,457.34 325.72,459.36 326.79,465.03 327.02,466.50 327.86,458.69 328.55,452.89 328.92,449.34 329.99,439.23 330.08,438.36 331.06,429.97 331.70,424.40 332.13,420.20 333.19,407.05 333.23,406.61 334.26,406.85 334.86,406.63 335.33,411.01 336.39,421.40 336.39,421.92 337.46,428.18 337.92,431.12 338.53,437.18 339.60,446.58 340.02,451.08 340.66,439.56 341.55,426.71 341.73,428.71 342.60,438.25 342.80,440.10 343.87,449.80 344.23,453.83 344.93,455.30 345.76,457.52 346.00,458.74 347.07,462.65 347.29,463.29 348.14,466.80 348.91,472.15 349.20,473.61 350.27,477.22 351.21,480.81 351.34,480.11 352.40,469.36 352.83,466.67 353.47,463.90 354.36,461.23 354.54,461.77 355.50,468.31 355.50,469.18' stroke='#0f0' stroke-width='1.7' stroke-dasharray='5.5 4'/>
</g>
<rect x='35.3' y='376.3' width='320.2' height='129.7' fill='none' stroke='#8c8c8c' stroke-width='1'/>
<line x1='35.3' y1='506.00' x2='38.9' y2='506.00' stroke='#8c8c8c' stroke-width='0.9'/>
<line x1='355.5' y1='506.00' x2='351.9' y2='506.00' stroke='#8c8c8c' stroke-width='0.9'/>
<text x='32.10' y='508.90' text-anchor='end'>0</text>
<line x1='35.3' y1='487.47' x2='38.9' y2='487.47' stroke='#8c8c8c' stroke-width='0.9'/>
<line x1='355.5' y1='487.47' x2='351.9' y2='487.47' stroke='#8c8c8c' stroke-width='0.9'/>
<text x='32.10' y='490.37' text-anchor='end'>0.5</text>
<line x1='35.3' y1='468.94' x2='38.9' y2='468.94' stroke='#8c8c8c' stroke-width='0.9'/>
<line x1='355.5' y1='468.94' x2='351.9' y2='468.94' stroke='#8c8c8c' stroke-width='0.9'/>
<text x='32.10' y='471.84' text-anchor='end'>1</text>
<line x1='35.3' y1='450.41' x2='38.9' y2='450.41' stroke='#8c8c8c' stroke-width='0.9'/>
<line x1='355.5' y1='450.41' x2='351.9' y2='450.41' stroke='#8c8c8c' stroke-width='0.9'/>
<text x='32.10' y='453.31' text-anchor='end'>1.5</text>
<line x1='35.3' y1='431.89' x2='38.9' y2='431.89' stroke='#8c8c8c' stroke-width='0.9'/>
<line x1='355.5' y1='431.89' x2='351.9' y2='431.89' stroke='#8c8c8c' stroke-width='0.9'/>
<text x='32.10' y='434.79' text-anchor='end'>2</text>
<line x1='35.3' y1='413.36' x2='38.9' y2='413.36' stroke='#8c8c8c' stroke-width='0.9'/>
<line x1='355.5' y1='413.36' x2='351.9' y2='413.36' stroke='#8c8c8c' stroke-width='0.9'/>
<text x='32.10' y='416.26' text-anchor='end'>2.5</text>
<line x1='35.3' y1='394.83' x2='38.9' y2='394.83' stroke='#8c8c8c' stroke-width='0.9'/>
<line x1='355.5' y1='394.83' x2='351.9' y2='394.83' stroke='#8c8c8c' stroke-width='0.9'/>
<text x='32.10' y='397.73' text-anchor='end'>3</text>
<line x1='35.3' y1='376.30' x2='38.9' y2='376.30' stroke='#8c8c8c' stroke-width='0.9'/>
<line x1='355.5' y1='376.30' x2='351.9' y2='376.30' stroke='#8c8c8c' stroke-width='0.9'/>
<text x='32.10' y='379.20' text-anchor='end'>3.5</text>
<line x1='35.30' y1='506.0' x2='35.30' y2='502.6' stroke='#8c8c8c' stroke-width='0.8'/>
<line x1='35.30' y1='376.3' x2='35.30' y2='379.7' stroke='#8c8c8c' stroke-width='0.8'/>
<text x='35.30' y='516.40' text-anchor='middle'>0</text>
<line x1='142.03' y1='506.0' x2='142.03' y2='502.6' stroke='#8c8c8c' stroke-width='0.8'/>
<line x1='142.03' y1='376.3' x2='142.03' y2='379.7' stroke='#8c8c8c' stroke-width='0.8'/>
<text x='142.03' y='516.40' text-anchor='middle'>500</text>
<line x1='248.77' y1='506.0' x2='248.77' y2='502.6' stroke='#8c8c8c' stroke-width='0.8'/>
<line x1='248.77' y1='376.3' x2='248.77' y2='379.7' stroke='#8c8c8c' stroke-width='0.8'/>
<text x='248.77' y='516.40' text-anchor='middle'>1000</text>
<line x1='355.50' y1='506.0' x2='355.50' y2='502.6' stroke='#8c8c8c' stroke-width='0.8'/>
<line x1='355.50' y1='376.3' x2='355.50' y2='379.7' stroke='#8c8c8c' stroke-width='0.8'/>
<text x='355.50' y='516.40' text-anchor='middle'>1500</text>
<text x='195.30' y='528.00' text-anchor='middle' font-size='8'>time/h</text>
<text transform='translate(18.0,441.15) rotate(-90)' text-anchor='middle' font-size='8.3'>significant wave height/m</text>
<text x='184.6' y='544.6' text-anchor='middle' font-family='Liberation Serif, serif' font-weight='bold' font-size='10.8' fill='#111'>(c)</text>
<polyline points='313.9,383 314.6,379.9 315.3,383' fill='none' stroke='#0f0' stroke-width='1.6'/><rect x='256.3' y='381.6' width='93.80000000000001' height='29.799999999999955' fill='#fff' stroke='#8c8c8c' stroke-width='1'/>
<line x1='258.6' y1='387.6' x2='280.2' y2='387.6' stroke='#000' stroke-width='2'/>
<text x='281.9' y='390.30' fill='#111' font-size='6.8'>Observed</text>
<line x1='258.6' y1='396.4' x2='280.2' y2='396.4' stroke='#f00' stroke-width='2'/>
<text x='281.9' y='399.10' fill='#111' font-size='6.8'>SWH as input</text>
<line x1='258.6' y1='405.7' x2='280.2' y2='405.7' stroke='#0f0' stroke-width='2' stroke-dasharray='5.5 5.2'/>
<text x='281.9' y='408.40' fill='#111' font-size='6.8'>SWH and WS as input</text>
<rect x='96.4' y='380.6' width='61.599999999999994' height='23.19999999999999' fill='#fff' stroke='#8c8c8c' stroke-width='0.8'/>
<line x1='98.8' y1='403.8' x2='98.8' y2='402.3' stroke='#8c8c8c' stroke-width='0.6'/>
<line x1='98.8' y1='380.6' x2='98.8' y2='382.1' stroke='#8c8c8c' stroke-width='0.6'/>
<text x='98.8' y='411.8' text-anchor='middle' font-size='6.5'>620</text>
<line x1='113.4' y1='403.8' x2='113.4' y2='402.3' stroke='#8c8c8c' stroke-width='0.6'/>
<line x1='113.4' y1='380.6' x2='113.4' y2='382.1' stroke='#8c8c8c' stroke-width='0.6'/>
<text x='113.4' y='411.8' text-anchor='middle' font-size='6.5'>640</text>
<line x1='127.6' y1='403.8' x2='127.6' y2='402.3' stroke='#8c8c8c' stroke-width='0.6'/>
<line x1='127.6' y1='380.6' x2='127.6' y2='382.1' stroke='#8c8c8c' stroke-width='0.6'/>
<text x='127.6' y='411.8' text-anchor='middle' font-size='6.5'>660</text>
<line x1='142.1' y1='403.8' x2='142.1' y2='402.3' stroke='#8c8c8c' stroke-width='0.6'/>
<line x1='142.1' y1='380.6' x2='142.1' y2='382.1' stroke='#8c8c8c' stroke-width='0.6'/>
<text x='142.1' y='411.8' text-anchor='middle' font-size='6.5'>680</text>
<line x1='156.4' y1='403.8' x2='156.4' y2='402.3' stroke='#8c8c8c' stroke-width='0.6'/>
<line x1='156.4' y1='380.6' x2='156.4' y2='382.1' stroke='#8c8c8c' stroke-width='0.6'/>
<text x='156.4' y='411.8' text-anchor='middle' font-size='6.5'>700</text>
<line x1='96.4' y1='384.3' x2='97.9' y2='384.3' stroke='#8c8c8c' stroke-width='0.6'/>
<line x1='158.0' y1='384.3' x2='156.5' y2='384.3' stroke='#8c8c8c' stroke-width='0.6'/>
<text x='95.2' y='386.3' text-anchor='end' font-size='5.8'>2.4</text>
<line x1='96.4' y1='396.2' x2='97.9' y2='396.2' stroke='#8c8c8c' stroke-width='0.6'/>
<line x1='158.0' y1='396.2' x2='156.5' y2='396.2' stroke='#8c8c8c' stroke-width='0.6'/>
<text x='95.2' y='398.2' text-anchor='end' font-size='5.8'>2.3</text>
<polygon points='119.8,403.8 122.9,386.5 124.2,386.5 125.5,403.8' fill='#f00'/>
<polygon points='122.6,387.2 123.1,384.2 124.0,384.2 124.3,387.2' fill='#000'/>
<polygon points='120.0,403.8 120.7,399.4 121.9,399.4 121.5,403.8' fill='#0f0'/>
<polygon points='123.1,403.8 123.4,399.4 124.6,399.4 125.0,403.8' fill='#0f0'/>
<line x1='132.0' y1='414.8' x2='164.23' y2='416.55' stroke='#222' stroke-width='0.8'/><polygon points='170.70,416.90 161.53,419.71 164.23,416.55 161.89,413.12' fill='#000'/>
</svg>
</body></html>
